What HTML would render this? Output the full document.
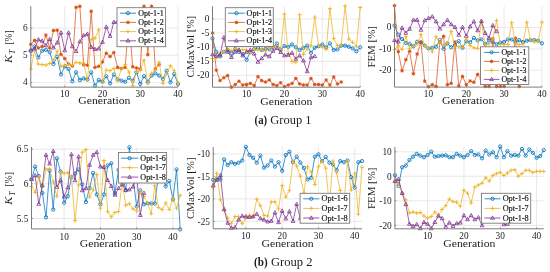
<!DOCTYPE html>
<html><head><meta charset="utf-8"><style>
html,body{margin:0;padding:0;background:#fff;width:550px;height:272px;overflow:hidden}
</style></head><body>
<svg width="550" height="272" viewBox="0 0 550 272" style="position:absolute;left:0;top:0;will-change:transform;filter:blur(0.4px)">
<defs>
<clipPath id="cs1"><rect x="26.8" y="2.2" width="155.2" height="87.95"/></clipPath>
<clipPath id="cs2"><rect x="208.5" y="2.3" width="155.7" height="87.9"/></clipPath>
<clipPath id="cs3"><rect x="390.5" y="2.0" width="155.39999999999998" height="88.1"/></clipPath>
<clipPath id="cs4"><rect x="27.5" y="143.0" width="156.7" height="88.9"/></clipPath>
<clipPath id="cs5"><rect x="209.2" y="143.0" width="156.8" height="88.80000000000001"/></clipPath>
<clipPath id="cs6"><rect x="390.9" y="142.9" width="156.89999999999998" height="88.9"/></clipPath>
</defs>
<g clip-path="url(#cs1)">
<line x1="30.8" x2="178" y1="28.0" y2="28.0" stroke="#e3e3e3" stroke-width="0.8"/>
<line x1="30.8" x2="178" y1="55.3" y2="55.3" stroke="#e3e3e3" stroke-width="0.8"/>
<line x1="30.8" x2="178" y1="82.6" y2="82.6" stroke="#e3e3e3" stroke-width="0.8"/>
<line x1="64.77" x2="64.77" y1="6.2" y2="87.15" stroke="#e3e3e3" stroke-width="0.8"/>
<line x1="102.51" x2="102.51" y1="6.2" y2="87.15" stroke="#e3e3e3" stroke-width="0.8"/>
<line x1="140.26" x2="140.26" y1="6.2" y2="87.15" stroke="#e3e3e3" stroke-width="0.8"/>
<line x1="178.00" x2="178.00" y1="6.2" y2="87.15" stroke="#e3e3e3" stroke-width="0.8"/>
</g>
<g clip-path="url(#cs2)">
<line x1="212.5" x2="360.2" y1="18.9" y2="18.9" stroke="#e3e3e3" stroke-width="0.8"/>
<line x1="212.5" x2="360.2" y1="33.0" y2="33.0" stroke="#e3e3e3" stroke-width="0.8"/>
<line x1="212.5" x2="360.2" y1="47.15" y2="47.15" stroke="#e3e3e3" stroke-width="0.8"/>
<line x1="212.5" x2="360.2" y1="61.3" y2="61.3" stroke="#e3e3e3" stroke-width="0.8"/>
<line x1="212.5" x2="360.2" y1="75.4" y2="75.4" stroke="#e3e3e3" stroke-width="0.8"/>
<line x1="246.58" x2="246.58" y1="6.3" y2="87.2" stroke="#e3e3e3" stroke-width="0.8"/>
<line x1="284.46" x2="284.46" y1="6.3" y2="87.2" stroke="#e3e3e3" stroke-width="0.8"/>
<line x1="322.33" x2="322.33" y1="6.3" y2="87.2" stroke="#e3e3e3" stroke-width="0.8"/>
<line x1="360.20" x2="360.20" y1="6.3" y2="87.2" stroke="#e3e3e3" stroke-width="0.8"/>
</g>
<g clip-path="url(#cs3)">
<line x1="394.5" x2="541.9" y1="27.5" y2="27.5" stroke="#e3e3e3" stroke-width="0.8"/>
<line x1="394.5" x2="541.9" y1="48.85" y2="48.85" stroke="#e3e3e3" stroke-width="0.8"/>
<line x1="394.5" x2="541.9" y1="70.2" y2="70.2" stroke="#e3e3e3" stroke-width="0.8"/>
<line x1="428.52" x2="428.52" y1="6.0" y2="87.1" stroke="#e3e3e3" stroke-width="0.8"/>
<line x1="466.31" x2="466.31" y1="6.0" y2="87.1" stroke="#e3e3e3" stroke-width="0.8"/>
<line x1="504.11" x2="504.11" y1="6.0" y2="87.1" stroke="#e3e3e3" stroke-width="0.8"/>
<line x1="541.90" x2="541.90" y1="6.0" y2="87.1" stroke="#e3e3e3" stroke-width="0.8"/>
</g>
<g clip-path="url(#cs4)">
<line x1="31.5" x2="180.2" y1="149.2" y2="149.2" stroke="#e3e3e3" stroke-width="0.8"/>
<line x1="31.5" x2="180.2" y1="183.85" y2="183.85" stroke="#e3e3e3" stroke-width="0.8"/>
<line x1="31.5" x2="180.2" y1="218.5" y2="218.5" stroke="#e3e3e3" stroke-width="0.8"/>
<line x1="64.14" x2="64.14" y1="147.0" y2="228.9" stroke="#e3e3e3" stroke-width="0.8"/>
<line x1="100.41" x2="100.41" y1="147.0" y2="228.9" stroke="#e3e3e3" stroke-width="0.8"/>
<line x1="136.68" x2="136.68" y1="147.0" y2="228.9" stroke="#e3e3e3" stroke-width="0.8"/>
<line x1="172.95" x2="172.95" y1="147.0" y2="228.9" stroke="#e3e3e3" stroke-width="0.8"/>
</g>
<g clip-path="url(#cs5)">
<line x1="213.2" x2="362.0" y1="153.9" y2="153.9" stroke="#e3e3e3" stroke-width="0.8"/>
<line x1="213.2" x2="362.0" y1="176.4" y2="176.4" stroke="#e3e3e3" stroke-width="0.8"/>
<line x1="213.2" x2="362.0" y1="198.85" y2="198.85" stroke="#e3e3e3" stroke-width="0.8"/>
<line x1="213.2" x2="362.0" y1="221.3" y2="221.3" stroke="#e3e3e3" stroke-width="0.8"/>
<line x1="245.86" x2="245.86" y1="147.0" y2="228.8" stroke="#e3e3e3" stroke-width="0.8"/>
<line x1="282.16" x2="282.16" y1="147.0" y2="228.8" stroke="#e3e3e3" stroke-width="0.8"/>
<line x1="318.45" x2="318.45" y1="147.0" y2="228.8" stroke="#e3e3e3" stroke-width="0.8"/>
<line x1="354.74" x2="354.74" y1="147.0" y2="228.8" stroke="#e3e3e3" stroke-width="0.8"/>
</g>
<g clip-path="url(#cs6)">
<line x1="394.9" x2="543.8" y1="151.8" y2="151.8" stroke="#e3e3e3" stroke-width="0.8"/>
<line x1="394.9" x2="543.8" y1="176.3" y2="176.3" stroke="#e3e3e3" stroke-width="0.8"/>
<line x1="394.9" x2="543.8" y1="200.8" y2="200.8" stroke="#e3e3e3" stroke-width="0.8"/>
<line x1="394.9" x2="543.8" y1="225.3" y2="225.3" stroke="#e3e3e3" stroke-width="0.8"/>
<line x1="427.59" x2="427.59" y1="146.9" y2="228.8" stroke="#e3e3e3" stroke-width="0.8"/>
<line x1="463.90" x2="463.90" y1="146.9" y2="228.8" stroke="#e3e3e3" stroke-width="0.8"/>
<line x1="500.22" x2="500.22" y1="146.9" y2="228.8" stroke="#e3e3e3" stroke-width="0.8"/>
<line x1="536.54" x2="536.54" y1="146.9" y2="228.8" stroke="#e3e3e3" stroke-width="0.8"/>
</g>
<g clip-path="url(#cs1)">
<path d="M30.80,51.20L34.57,46.60L38.35,57.60L42.12,50.70L45.90,49.80L49.67,52.10L53.45,64.00L57.22,56.70L60.99,74.50L64.77,66.30L68.54,69.00L72.32,81.20L76.09,72.30L79.87,80.00L83.64,78.40L87.42,79.50L91.19,72.30L94.96,85.60L98.74,80.00L102.51,81.70L106.29,76.20L110.06,83.40L113.84,74.50L117.61,79.50L121.38,80.60L125.16,81.70L128.93,77.80L132.71,80.60L136.48,72.30L140.26,83.90L144.03,76.20L147.81,81.70L151.58,75.60L155.35,73.40L159.13,75.60L162.90,79.00L166.68,70.70L170.45,82.30L174.23,74.00L178.00,83.90" fill="none" stroke="#0072BD" stroke-width="0.75" stroke-linejoin="round"/>
<circle cx="30.80" cy="51.20" r="1.65" fill="none" stroke="#0072BD" stroke-width="0.85"/>
<circle cx="34.57" cy="46.60" r="1.65" fill="none" stroke="#0072BD" stroke-width="0.85"/>
<circle cx="38.35" cy="57.60" r="1.65" fill="none" stroke="#0072BD" stroke-width="0.85"/>
<circle cx="42.12" cy="50.70" r="1.65" fill="none" stroke="#0072BD" stroke-width="0.85"/>
<circle cx="45.90" cy="49.80" r="1.65" fill="none" stroke="#0072BD" stroke-width="0.85"/>
<circle cx="49.67" cy="52.10" r="1.65" fill="none" stroke="#0072BD" stroke-width="0.85"/>
<circle cx="53.45" cy="64.00" r="1.65" fill="none" stroke="#0072BD" stroke-width="0.85"/>
<circle cx="57.22" cy="56.70" r="1.65" fill="none" stroke="#0072BD" stroke-width="0.85"/>
<circle cx="60.99" cy="74.50" r="1.65" fill="none" stroke="#0072BD" stroke-width="0.85"/>
<circle cx="64.77" cy="66.30" r="1.65" fill="none" stroke="#0072BD" stroke-width="0.85"/>
<circle cx="68.54" cy="69.00" r="1.65" fill="none" stroke="#0072BD" stroke-width="0.85"/>
<circle cx="72.32" cy="81.20" r="1.65" fill="none" stroke="#0072BD" stroke-width="0.85"/>
<circle cx="76.09" cy="72.30" r="1.65" fill="none" stroke="#0072BD" stroke-width="0.85"/>
<circle cx="79.87" cy="80.00" r="1.65" fill="none" stroke="#0072BD" stroke-width="0.85"/>
<circle cx="83.64" cy="78.40" r="1.65" fill="none" stroke="#0072BD" stroke-width="0.85"/>
<circle cx="87.42" cy="79.50" r="1.65" fill="none" stroke="#0072BD" stroke-width="0.85"/>
<circle cx="91.19" cy="72.30" r="1.65" fill="none" stroke="#0072BD" stroke-width="0.85"/>
<circle cx="94.96" cy="85.60" r="1.65" fill="none" stroke="#0072BD" stroke-width="0.85"/>
<circle cx="98.74" cy="80.00" r="1.65" fill="none" stroke="#0072BD" stroke-width="0.85"/>
<circle cx="102.51" cy="81.70" r="1.65" fill="none" stroke="#0072BD" stroke-width="0.85"/>
<circle cx="106.29" cy="76.20" r="1.65" fill="none" stroke="#0072BD" stroke-width="0.85"/>
<circle cx="110.06" cy="83.40" r="1.65" fill="none" stroke="#0072BD" stroke-width="0.85"/>
<circle cx="113.84" cy="74.50" r="1.65" fill="none" stroke="#0072BD" stroke-width="0.85"/>
<circle cx="117.61" cy="79.50" r="1.65" fill="none" stroke="#0072BD" stroke-width="0.85"/>
<circle cx="121.38" cy="80.60" r="1.65" fill="none" stroke="#0072BD" stroke-width="0.85"/>
<circle cx="125.16" cy="81.70" r="1.65" fill="none" stroke="#0072BD" stroke-width="0.85"/>
<circle cx="128.93" cy="77.80" r="1.65" fill="none" stroke="#0072BD" stroke-width="0.85"/>
<circle cx="132.71" cy="80.60" r="1.65" fill="none" stroke="#0072BD" stroke-width="0.85"/>
<circle cx="136.48" cy="72.30" r="1.65" fill="none" stroke="#0072BD" stroke-width="0.85"/>
<circle cx="140.26" cy="83.90" r="1.65" fill="none" stroke="#0072BD" stroke-width="0.85"/>
<circle cx="144.03" cy="76.20" r="1.65" fill="none" stroke="#0072BD" stroke-width="0.85"/>
<circle cx="147.81" cy="81.70" r="1.65" fill="none" stroke="#0072BD" stroke-width="0.85"/>
<circle cx="151.58" cy="75.60" r="1.65" fill="none" stroke="#0072BD" stroke-width="0.85"/>
<circle cx="155.35" cy="73.40" r="1.65" fill="none" stroke="#0072BD" stroke-width="0.85"/>
<circle cx="159.13" cy="75.60" r="1.65" fill="none" stroke="#0072BD" stroke-width="0.85"/>
<circle cx="162.90" cy="79.00" r="1.65" fill="none" stroke="#0072BD" stroke-width="0.85"/>
<circle cx="166.68" cy="70.70" r="1.65" fill="none" stroke="#0072BD" stroke-width="0.85"/>
<circle cx="170.45" cy="82.30" r="1.65" fill="none" stroke="#0072BD" stroke-width="0.85"/>
<circle cx="174.23" cy="74.00" r="1.65" fill="none" stroke="#0072BD" stroke-width="0.85"/>
<circle cx="178.00" cy="83.90" r="1.65" fill="none" stroke="#0072BD" stroke-width="0.85"/>
<path d="M30.80,44.30L34.57,40.40L38.35,48.00L42.12,46.50L45.90,35.10L49.67,48.00L53.45,30.50L57.22,30.20L60.99,54.40L64.77,58.50L68.54,64.00L72.32,66.00L76.09,7.30L79.87,6.20L83.64,64.60L87.42,65.20L91.19,11.20L94.96,67.40L98.74,66.30L102.51,62.00L106.29,53.20L110.06,56.50L113.84,52.60L117.61,67.40L121.38,68.50L125.16,67.40L128.93,20.00L132.71,66.80L136.48,68.00L140.26,69.00L144.03,6.20L147.81,54.80L151.58,6.20L155.35,69.00L159.13,64.60" fill="none" stroke="#D95319" stroke-width="0.75" stroke-linejoin="round"/>
<path d="M29.00,44.30H32.60M30.80,42.50V46.10M29.45,42.95L32.15,45.65M29.45,45.65L32.15,42.95" stroke="#D95319" stroke-width="0.9" fill="none"/><circle cx="30.80" cy="44.30" r="1.2" fill="#D95319"/>
<path d="M32.77,40.40H36.37M34.57,38.60V42.20M33.22,39.05L35.92,41.75M33.22,41.75L35.92,39.05" stroke="#D95319" stroke-width="0.9" fill="none"/><circle cx="34.57" cy="40.40" r="1.2" fill="#D95319"/>
<path d="M36.55,48.00H40.15M38.35,46.20V49.80M37.00,46.65L39.70,49.35M37.00,49.35L39.70,46.65" stroke="#D95319" stroke-width="0.9" fill="none"/><circle cx="38.35" cy="48.00" r="1.2" fill="#D95319"/>
<path d="M40.32,46.50H43.92M42.12,44.70V48.30M40.77,45.15L43.47,47.85M40.77,47.85L43.47,45.15" stroke="#D95319" stroke-width="0.9" fill="none"/><circle cx="42.12" cy="46.50" r="1.2" fill="#D95319"/>
<path d="M44.10,35.10H47.70M45.90,33.30V36.90M44.55,33.75L47.25,36.45M44.55,36.45L47.25,33.75" stroke="#D95319" stroke-width="0.9" fill="none"/><circle cx="45.90" cy="35.10" r="1.2" fill="#D95319"/>
<path d="M47.87,48.00H51.47M49.67,46.20V49.80M48.32,46.65L51.02,49.35M48.32,49.35L51.02,46.65" stroke="#D95319" stroke-width="0.9" fill="none"/><circle cx="49.67" cy="48.00" r="1.2" fill="#D95319"/>
<path d="M51.65,30.50H55.25M53.45,28.70V32.30M52.10,29.15L54.80,31.85M52.10,31.85L54.80,29.15" stroke="#D95319" stroke-width="0.9" fill="none"/><circle cx="53.45" cy="30.50" r="1.2" fill="#D95319"/>
<path d="M55.42,30.20H59.02M57.22,28.40V32.00M55.87,28.85L58.57,31.55M55.87,31.55L58.57,28.85" stroke="#D95319" stroke-width="0.9" fill="none"/><circle cx="57.22" cy="30.20" r="1.2" fill="#D95319"/>
<path d="M59.19,54.40H62.79M60.99,52.60V56.20M59.64,53.05L62.34,55.75M59.64,55.75L62.34,53.05" stroke="#D95319" stroke-width="0.9" fill="none"/><circle cx="60.99" cy="54.40" r="1.2" fill="#D95319"/>
<path d="M62.97,58.50H66.57M64.77,56.70V60.30M63.42,57.15L66.12,59.85M63.42,59.85L66.12,57.15" stroke="#D95319" stroke-width="0.9" fill="none"/><circle cx="64.77" cy="58.50" r="1.2" fill="#D95319"/>
<path d="M66.74,64.00H70.34M68.54,62.20V65.80M67.19,62.65L69.89,65.35M67.19,65.35L69.89,62.65" stroke="#D95319" stroke-width="0.9" fill="none"/><circle cx="68.54" cy="64.00" r="1.2" fill="#D95319"/>
<path d="M70.52,66.00H74.12M72.32,64.20V67.80M70.97,64.65L73.67,67.35M70.97,67.35L73.67,64.65" stroke="#D95319" stroke-width="0.9" fill="none"/><circle cx="72.32" cy="66.00" r="1.2" fill="#D95319"/>
<path d="M74.29,7.30H77.89M76.09,5.50V9.10M74.74,5.95L77.44,8.65M74.74,8.65L77.44,5.95" stroke="#D95319" stroke-width="0.9" fill="none"/><circle cx="76.09" cy="7.30" r="1.2" fill="#D95319"/>
<path d="M78.07,6.20H81.67M79.87,4.40V8.00M78.52,4.85L81.22,7.55M78.52,7.55L81.22,4.85" stroke="#D95319" stroke-width="0.9" fill="none"/><circle cx="79.87" cy="6.20" r="1.2" fill="#D95319"/>
<path d="M81.84,64.60H85.44M83.64,62.80V66.40M82.29,63.25L84.99,65.95M82.29,65.95L84.99,63.25" stroke="#D95319" stroke-width="0.9" fill="none"/><circle cx="83.64" cy="64.60" r="1.2" fill="#D95319"/>
<path d="M85.62,65.20H89.22M87.42,63.40V67.00M86.07,63.85L88.77,66.55M86.07,66.55L88.77,63.85" stroke="#D95319" stroke-width="0.9" fill="none"/><circle cx="87.42" cy="65.20" r="1.2" fill="#D95319"/>
<path d="M89.39,11.20H92.99M91.19,9.40V13.00M89.84,9.85L92.54,12.55M89.84,12.55L92.54,9.85" stroke="#D95319" stroke-width="0.9" fill="none"/><circle cx="91.19" cy="11.20" r="1.2" fill="#D95319"/>
<path d="M93.16,67.40H96.76M94.96,65.60V69.20M93.61,66.05L96.31,68.75M93.61,68.75L96.31,66.05" stroke="#D95319" stroke-width="0.9" fill="none"/><circle cx="94.96" cy="67.40" r="1.2" fill="#D95319"/>
<path d="M96.94,66.30H100.54M98.74,64.50V68.10M97.39,64.95L100.09,67.65M97.39,67.65L100.09,64.95" stroke="#D95319" stroke-width="0.9" fill="none"/><circle cx="98.74" cy="66.30" r="1.2" fill="#D95319"/>
<path d="M100.71,62.00H104.31M102.51,60.20V63.80M101.16,60.65L103.86,63.35M101.16,63.35L103.86,60.65" stroke="#D95319" stroke-width="0.9" fill="none"/><circle cx="102.51" cy="62.00" r="1.2" fill="#D95319"/>
<path d="M104.49,53.20H108.09M106.29,51.40V55.00M104.94,51.85L107.64,54.55M104.94,54.55L107.64,51.85" stroke="#D95319" stroke-width="0.9" fill="none"/><circle cx="106.29" cy="53.20" r="1.2" fill="#D95319"/>
<path d="M108.26,56.50H111.86M110.06,54.70V58.30M108.71,55.15L111.41,57.85M108.71,57.85L111.41,55.15" stroke="#D95319" stroke-width="0.9" fill="none"/><circle cx="110.06" cy="56.50" r="1.2" fill="#D95319"/>
<path d="M112.04,52.60H115.64M113.84,50.80V54.40M112.49,51.25L115.19,53.95M112.49,53.95L115.19,51.25" stroke="#D95319" stroke-width="0.9" fill="none"/><circle cx="113.84" cy="52.60" r="1.2" fill="#D95319"/>
<path d="M115.81,67.40H119.41M117.61,65.60V69.20M116.26,66.05L118.96,68.75M116.26,68.75L118.96,66.05" stroke="#D95319" stroke-width="0.9" fill="none"/><circle cx="117.61" cy="67.40" r="1.2" fill="#D95319"/>
<path d="M119.58,68.50H123.18M121.38,66.70V70.30M120.03,67.15L122.73,69.85M120.03,69.85L122.73,67.15" stroke="#D95319" stroke-width="0.9" fill="none"/><circle cx="121.38" cy="68.50" r="1.2" fill="#D95319"/>
<path d="M123.36,67.40H126.96M125.16,65.60V69.20M123.81,66.05L126.51,68.75M123.81,68.75L126.51,66.05" stroke="#D95319" stroke-width="0.9" fill="none"/><circle cx="125.16" cy="67.40" r="1.2" fill="#D95319"/>
<path d="M127.13,20.00H130.73M128.93,18.20V21.80M127.58,18.65L130.28,21.35M127.58,21.35L130.28,18.65" stroke="#D95319" stroke-width="0.9" fill="none"/><circle cx="128.93" cy="20.00" r="1.2" fill="#D95319"/>
<path d="M130.91,66.80H134.51M132.71,65.00V68.60M131.36,65.45L134.06,68.15M131.36,68.15L134.06,65.45" stroke="#D95319" stroke-width="0.9" fill="none"/><circle cx="132.71" cy="66.80" r="1.2" fill="#D95319"/>
<path d="M134.68,68.00H138.28M136.48,66.20V69.80M135.13,66.65L137.83,69.35M135.13,69.35L137.83,66.65" stroke="#D95319" stroke-width="0.9" fill="none"/><circle cx="136.48" cy="68.00" r="1.2" fill="#D95319"/>
<path d="M138.46,69.00H142.06M140.26,67.20V70.80M138.91,67.65L141.61,70.35M138.91,70.35L141.61,67.65" stroke="#D95319" stroke-width="0.9" fill="none"/><circle cx="140.26" cy="69.00" r="1.2" fill="#D95319"/>
<path d="M142.23,6.20H145.83M144.03,4.40V8.00M142.68,4.85L145.38,7.55M142.68,7.55L145.38,4.85" stroke="#D95319" stroke-width="0.9" fill="none"/><circle cx="144.03" cy="6.20" r="1.2" fill="#D95319"/>
<path d="M146.01,54.80H149.61M147.81,53.00V56.60M146.46,53.45L149.16,56.15M146.46,56.15L149.16,53.45" stroke="#D95319" stroke-width="0.9" fill="none"/><circle cx="147.81" cy="54.80" r="1.2" fill="#D95319"/>
<path d="M149.78,6.20H153.38M151.58,4.40V8.00M150.23,4.85L152.93,7.55M150.23,7.55L152.93,4.85" stroke="#D95319" stroke-width="0.9" fill="none"/><circle cx="151.58" cy="6.20" r="1.2" fill="#D95319"/>
<path d="M153.55,69.00H157.15M155.35,67.20V70.80M154.00,67.65L156.70,70.35M154.00,70.35L156.70,67.65" stroke="#D95319" stroke-width="0.9" fill="none"/><circle cx="155.35" cy="69.00" r="1.2" fill="#D95319"/>
<path d="M157.33,64.60H160.93M159.13,62.80V66.40M157.78,63.25L160.48,65.95M157.78,65.95L160.48,63.25" stroke="#D95319" stroke-width="0.9" fill="none"/><circle cx="159.13" cy="64.60" r="1.2" fill="#D95319"/>
<path d="M30.80,69.00L34.57,51.00L38.35,64.10L42.12,64.60L45.90,65.20L49.67,63.50L53.45,60.00L57.22,51.20L60.99,66.30L64.77,65.70L68.54,64.60L72.32,65.00L76.09,62.40L79.87,63.00L83.64,63.00L87.42,80.00L91.19,39.40L94.96,38.30L98.74,29.90L102.51,81.70L106.29,70.10L110.06,70.70L113.84,68.50L117.61,80.60L121.38,69.00L125.16,64.60L128.93,72.00L132.71,85.60L136.48,71.80L140.26,70.10L144.03,60.20L147.81,83.90L151.58,73.40L155.35,70.00L159.13,62.40L162.90,83.40L166.68,73.40L170.45,65.70L174.23,70.70L178.00,82.80" fill="none" stroke="#EDB120" stroke-width="0.75" stroke-linejoin="round"/>
<path d="M28.80,69.00H32.80M30.80,67.00V71.00" stroke="#EDB120" stroke-width="0.85" fill="none"/>
<path d="M32.57,51.00H36.57M34.57,49.00V53.00" stroke="#EDB120" stroke-width="0.85" fill="none"/>
<path d="M36.35,64.10H40.35M38.35,62.10V66.10" stroke="#EDB120" stroke-width="0.85" fill="none"/>
<path d="M40.12,64.60H44.12M42.12,62.60V66.60" stroke="#EDB120" stroke-width="0.85" fill="none"/>
<path d="M43.90,65.20H47.90M45.90,63.20V67.20" stroke="#EDB120" stroke-width="0.85" fill="none"/>
<path d="M47.67,63.50H51.67M49.67,61.50V65.50" stroke="#EDB120" stroke-width="0.85" fill="none"/>
<path d="M51.45,60.00H55.45M53.45,58.00V62.00" stroke="#EDB120" stroke-width="0.85" fill="none"/>
<path d="M55.22,51.20H59.22M57.22,49.20V53.20" stroke="#EDB120" stroke-width="0.85" fill="none"/>
<path d="M58.99,66.30H62.99M60.99,64.30V68.30" stroke="#EDB120" stroke-width="0.85" fill="none"/>
<path d="M62.77,65.70H66.77M64.77,63.70V67.70" stroke="#EDB120" stroke-width="0.85" fill="none"/>
<path d="M66.54,64.60H70.54M68.54,62.60V66.60" stroke="#EDB120" stroke-width="0.85" fill="none"/>
<path d="M70.32,65.00H74.32M72.32,63.00V67.00" stroke="#EDB120" stroke-width="0.85" fill="none"/>
<path d="M74.09,62.40H78.09M76.09,60.40V64.40" stroke="#EDB120" stroke-width="0.85" fill="none"/>
<path d="M77.87,63.00H81.87M79.87,61.00V65.00" stroke="#EDB120" stroke-width="0.85" fill="none"/>
<path d="M81.64,63.00H85.64M83.64,61.00V65.00" stroke="#EDB120" stroke-width="0.85" fill="none"/>
<path d="M85.42,80.00H89.42M87.42,78.00V82.00" stroke="#EDB120" stroke-width="0.85" fill="none"/>
<path d="M89.19,39.40H93.19M91.19,37.40V41.40" stroke="#EDB120" stroke-width="0.85" fill="none"/>
<path d="M92.96,38.30H96.96M94.96,36.30V40.30" stroke="#EDB120" stroke-width="0.85" fill="none"/>
<path d="M96.74,29.90H100.74M98.74,27.90V31.90" stroke="#EDB120" stroke-width="0.85" fill="none"/>
<path d="M100.51,81.70H104.51M102.51,79.70V83.70" stroke="#EDB120" stroke-width="0.85" fill="none"/>
<path d="M104.29,70.10H108.29M106.29,68.10V72.10" stroke="#EDB120" stroke-width="0.85" fill="none"/>
<path d="M108.06,70.70H112.06M110.06,68.70V72.70" stroke="#EDB120" stroke-width="0.85" fill="none"/>
<path d="M111.84,68.50H115.84M113.84,66.50V70.50" stroke="#EDB120" stroke-width="0.85" fill="none"/>
<path d="M115.61,80.60H119.61M117.61,78.60V82.60" stroke="#EDB120" stroke-width="0.85" fill="none"/>
<path d="M119.38,69.00H123.38M121.38,67.00V71.00" stroke="#EDB120" stroke-width="0.85" fill="none"/>
<path d="M123.16,64.60H127.16M125.16,62.60V66.60" stroke="#EDB120" stroke-width="0.85" fill="none"/>
<path d="M126.93,72.00H130.93M128.93,70.00V74.00" stroke="#EDB120" stroke-width="0.85" fill="none"/>
<path d="M130.71,85.60H134.71M132.71,83.60V87.60" stroke="#EDB120" stroke-width="0.85" fill="none"/>
<path d="M134.48,71.80H138.48M136.48,69.80V73.80" stroke="#EDB120" stroke-width="0.85" fill="none"/>
<path d="M138.26,70.10H142.26M140.26,68.10V72.10" stroke="#EDB120" stroke-width="0.85" fill="none"/>
<path d="M142.03,60.20H146.03M144.03,58.20V62.20" stroke="#EDB120" stroke-width="0.85" fill="none"/>
<path d="M145.81,83.90H149.81M147.81,81.90V85.90" stroke="#EDB120" stroke-width="0.85" fill="none"/>
<path d="M149.58,73.40H153.58M151.58,71.40V75.40" stroke="#EDB120" stroke-width="0.85" fill="none"/>
<path d="M153.35,70.00H157.35M155.35,68.00V72.00" stroke="#EDB120" stroke-width="0.85" fill="none"/>
<path d="M157.13,62.40H161.13M159.13,60.40V64.40" stroke="#EDB120" stroke-width="0.85" fill="none"/>
<path d="M160.90,83.40H164.90M162.90,81.40V85.40" stroke="#EDB120" stroke-width="0.85" fill="none"/>
<path d="M164.68,73.40H168.68M166.68,71.40V75.40" stroke="#EDB120" stroke-width="0.85" fill="none"/>
<path d="M168.45,65.70H172.45M170.45,63.70V67.70" stroke="#EDB120" stroke-width="0.85" fill="none"/>
<path d="M172.23,70.70H176.23M174.23,68.70V72.70" stroke="#EDB120" stroke-width="0.85" fill="none"/>
<path d="M176.00,82.80H180.00M178.00,80.80V84.80" stroke="#EDB120" stroke-width="0.85" fill="none"/>
<path d="M30.80,49.80L34.57,48.70L38.35,39.70L42.12,41.00L45.90,45.50L49.67,39.20L53.45,47.80L57.22,42.70L60.99,32.80L64.77,50.50L68.54,32.80L72.32,46.50L76.09,51.30L79.87,41.60L83.64,35.50L87.42,34.00L91.19,47.10L94.96,49.30L98.74,48.70L102.51,42.10L106.29,27.00L110.06,36.10L113.84,22.20L117.61,22.00L121.38,25.00L125.16,35.00L128.93,30.00L132.71,28.00" fill="none" stroke="#7E2F8E" stroke-width="0.75" stroke-linejoin="round"/>
<path d="M30.80,47.70L32.69,51.06L28.91,51.06Z" stroke="#7E2F8E" stroke-width="0.8" fill="none"/>
<path d="M34.57,46.60L36.46,49.96L32.68,49.96Z" stroke="#7E2F8E" stroke-width="0.8" fill="none"/>
<path d="M38.35,37.60L40.24,40.96L36.46,40.96Z" stroke="#7E2F8E" stroke-width="0.8" fill="none"/>
<path d="M42.12,38.90L44.01,42.26L40.23,42.26Z" stroke="#7E2F8E" stroke-width="0.8" fill="none"/>
<path d="M45.90,43.40L47.79,46.76L44.01,46.76Z" stroke="#7E2F8E" stroke-width="0.8" fill="none"/>
<path d="M49.67,37.10L51.56,40.46L47.78,40.46Z" stroke="#7E2F8E" stroke-width="0.8" fill="none"/>
<path d="M53.45,45.70L55.34,49.06L51.56,49.06Z" stroke="#7E2F8E" stroke-width="0.8" fill="none"/>
<path d="M57.22,40.60L59.11,43.96L55.33,43.96Z" stroke="#7E2F8E" stroke-width="0.8" fill="none"/>
<path d="M60.99,30.70L62.88,34.06L59.10,34.06Z" stroke="#7E2F8E" stroke-width="0.8" fill="none"/>
<path d="M64.77,48.40L66.66,51.76L62.88,51.76Z" stroke="#7E2F8E" stroke-width="0.8" fill="none"/>
<path d="M68.54,30.70L70.43,34.06L66.65,34.06Z" stroke="#7E2F8E" stroke-width="0.8" fill="none"/>
<path d="M72.32,44.40L74.21,47.76L70.43,47.76Z" stroke="#7E2F8E" stroke-width="0.8" fill="none"/>
<path d="M76.09,49.20L77.98,52.56L74.20,52.56Z" stroke="#7E2F8E" stroke-width="0.8" fill="none"/>
<path d="M79.87,39.50L81.76,42.86L77.98,42.86Z" stroke="#7E2F8E" stroke-width="0.8" fill="none"/>
<path d="M83.64,33.40L85.53,36.76L81.75,36.76Z" stroke="#7E2F8E" stroke-width="0.8" fill="none"/>
<path d="M87.42,31.90L89.31,35.26L85.53,35.26Z" stroke="#7E2F8E" stroke-width="0.8" fill="none"/>
<path d="M91.19,45.00L93.08,48.36L89.30,48.36Z" stroke="#7E2F8E" stroke-width="0.8" fill="none"/>
<path d="M94.96,47.20L96.85,50.56L93.07,50.56Z" stroke="#7E2F8E" stroke-width="0.8" fill="none"/>
<path d="M98.74,46.60L100.63,49.96L96.85,49.96Z" stroke="#7E2F8E" stroke-width="0.8" fill="none"/>
<path d="M102.51,40.00L104.40,43.36L100.62,43.36Z" stroke="#7E2F8E" stroke-width="0.8" fill="none"/>
<path d="M106.29,24.90L108.18,28.26L104.40,28.26Z" stroke="#7E2F8E" stroke-width="0.8" fill="none"/>
<path d="M110.06,34.00L111.95,37.36L108.17,37.36Z" stroke="#7E2F8E" stroke-width="0.8" fill="none"/>
<path d="M113.84,20.10L115.73,23.46L111.95,23.46Z" stroke="#7E2F8E" stroke-width="0.8" fill="none"/>
<path d="M117.61,19.90L119.50,23.26L115.72,23.26Z" stroke="#7E2F8E" stroke-width="0.8" fill="none"/>
<path d="M121.38,22.90L123.27,26.26L119.49,26.26Z" stroke="#7E2F8E" stroke-width="0.8" fill="none"/>
<path d="M125.16,32.90L127.05,36.26L123.27,36.26Z" stroke="#7E2F8E" stroke-width="0.8" fill="none"/>
<path d="M128.93,27.90L130.82,31.26L127.04,31.26Z" stroke="#7E2F8E" stroke-width="0.8" fill="none"/>
<path d="M132.71,25.90L134.60,29.26L130.82,29.26Z" stroke="#7E2F8E" stroke-width="0.8" fill="none"/>
</g>
<g clip-path="url(#cs2)">
<path d="M212.50,38.50L216.29,51.80L220.07,56.40L223.86,51.80L227.65,50.00L231.44,53.00L235.22,49.00L239.01,51.80L242.80,54.00L246.58,59.80L250.37,52.00L254.16,49.20L257.95,48.00L261.73,50.00L265.52,49.00L269.31,49.20L273.09,47.00L276.88,43.60L280.67,49.80L284.46,46.00L288.24,46.80L292.03,44.50L295.82,47.30L299.61,50.00L303.39,47.80L307.18,45.60L310.97,52.80L314.75,47.80L318.54,46.20L322.33,44.50L326.12,47.30L329.90,43.40L333.69,50.00L337.48,49.50L341.26,45.60L345.05,45.60L348.84,46.70L352.63,48.40L356.41,51.20L360.20,47.30" fill="none" stroke="#0072BD" stroke-width="0.75" stroke-linejoin="round"/>
<circle cx="212.50" cy="38.50" r="1.65" fill="none" stroke="#0072BD" stroke-width="0.85"/>
<circle cx="216.29" cy="51.80" r="1.65" fill="none" stroke="#0072BD" stroke-width="0.85"/>
<circle cx="220.07" cy="56.40" r="1.65" fill="none" stroke="#0072BD" stroke-width="0.85"/>
<circle cx="223.86" cy="51.80" r="1.65" fill="none" stroke="#0072BD" stroke-width="0.85"/>
<circle cx="227.65" cy="50.00" r="1.65" fill="none" stroke="#0072BD" stroke-width="0.85"/>
<circle cx="231.44" cy="53.00" r="1.65" fill="none" stroke="#0072BD" stroke-width="0.85"/>
<circle cx="235.22" cy="49.00" r="1.65" fill="none" stroke="#0072BD" stroke-width="0.85"/>
<circle cx="239.01" cy="51.80" r="1.65" fill="none" stroke="#0072BD" stroke-width="0.85"/>
<circle cx="242.80" cy="54.00" r="1.65" fill="none" stroke="#0072BD" stroke-width="0.85"/>
<circle cx="246.58" cy="59.80" r="1.65" fill="none" stroke="#0072BD" stroke-width="0.85"/>
<circle cx="250.37" cy="52.00" r="1.65" fill="none" stroke="#0072BD" stroke-width="0.85"/>
<circle cx="254.16" cy="49.20" r="1.65" fill="none" stroke="#0072BD" stroke-width="0.85"/>
<circle cx="257.95" cy="48.00" r="1.65" fill="none" stroke="#0072BD" stroke-width="0.85"/>
<circle cx="261.73" cy="50.00" r="1.65" fill="none" stroke="#0072BD" stroke-width="0.85"/>
<circle cx="265.52" cy="49.00" r="1.65" fill="none" stroke="#0072BD" stroke-width="0.85"/>
<circle cx="269.31" cy="49.20" r="1.65" fill="none" stroke="#0072BD" stroke-width="0.85"/>
<circle cx="273.09" cy="47.00" r="1.65" fill="none" stroke="#0072BD" stroke-width="0.85"/>
<circle cx="276.88" cy="43.60" r="1.65" fill="none" stroke="#0072BD" stroke-width="0.85"/>
<circle cx="280.67" cy="49.80" r="1.65" fill="none" stroke="#0072BD" stroke-width="0.85"/>
<circle cx="284.46" cy="46.00" r="1.65" fill="none" stroke="#0072BD" stroke-width="0.85"/>
<circle cx="288.24" cy="46.80" r="1.65" fill="none" stroke="#0072BD" stroke-width="0.85"/>
<circle cx="292.03" cy="44.50" r="1.65" fill="none" stroke="#0072BD" stroke-width="0.85"/>
<circle cx="295.82" cy="47.30" r="1.65" fill="none" stroke="#0072BD" stroke-width="0.85"/>
<circle cx="299.61" cy="50.00" r="1.65" fill="none" stroke="#0072BD" stroke-width="0.85"/>
<circle cx="303.39" cy="47.80" r="1.65" fill="none" stroke="#0072BD" stroke-width="0.85"/>
<circle cx="307.18" cy="45.60" r="1.65" fill="none" stroke="#0072BD" stroke-width="0.85"/>
<circle cx="310.97" cy="52.80" r="1.65" fill="none" stroke="#0072BD" stroke-width="0.85"/>
<circle cx="314.75" cy="47.80" r="1.65" fill="none" stroke="#0072BD" stroke-width="0.85"/>
<circle cx="318.54" cy="46.20" r="1.65" fill="none" stroke="#0072BD" stroke-width="0.85"/>
<circle cx="322.33" cy="44.50" r="1.65" fill="none" stroke="#0072BD" stroke-width="0.85"/>
<circle cx="326.12" cy="47.30" r="1.65" fill="none" stroke="#0072BD" stroke-width="0.85"/>
<circle cx="329.90" cy="43.40" r="1.65" fill="none" stroke="#0072BD" stroke-width="0.85"/>
<circle cx="333.69" cy="50.00" r="1.65" fill="none" stroke="#0072BD" stroke-width="0.85"/>
<circle cx="337.48" cy="49.50" r="1.65" fill="none" stroke="#0072BD" stroke-width="0.85"/>
<circle cx="341.26" cy="45.60" r="1.65" fill="none" stroke="#0072BD" stroke-width="0.85"/>
<circle cx="345.05" cy="45.60" r="1.65" fill="none" stroke="#0072BD" stroke-width="0.85"/>
<circle cx="348.84" cy="46.70" r="1.65" fill="none" stroke="#0072BD" stroke-width="0.85"/>
<circle cx="352.63" cy="48.40" r="1.65" fill="none" stroke="#0072BD" stroke-width="0.85"/>
<circle cx="356.41" cy="51.20" r="1.65" fill="none" stroke="#0072BD" stroke-width="0.85"/>
<circle cx="360.20" cy="47.30" r="1.65" fill="none" stroke="#0072BD" stroke-width="0.85"/>
<path d="M212.50,33.00L216.29,70.10L220.07,80.60L223.86,77.80L227.65,75.60L231.44,87.20L235.22,84.50L239.01,81.20L242.80,85.00L246.58,84.50L250.37,83.40L254.16,85.60L257.95,76.70L261.73,80.60L265.52,82.00L269.31,80.00L273.09,84.50L276.88,85.60L280.67,82.80L284.46,86.70L288.24,85.00L292.03,83.40L295.82,78.40L299.61,83.90L303.39,85.00L307.18,85.00L310.97,78.40L314.75,84.50L318.54,84.50L322.33,85.00L326.12,80.00L329.90,85.00L333.69,77.00L337.48,84.00L341.26,82.00" fill="none" stroke="#D95319" stroke-width="0.75" stroke-linejoin="round"/>
<path d="M210.70,33.00H214.30M212.50,31.20V34.80M211.15,31.65L213.85,34.35M211.15,34.35L213.85,31.65" stroke="#D95319" stroke-width="0.9" fill="none"/><circle cx="212.50" cy="33.00" r="1.2" fill="#D95319"/>
<path d="M214.49,70.10H218.09M216.29,68.30V71.90M214.94,68.75L217.64,71.45M214.94,71.45L217.64,68.75" stroke="#D95319" stroke-width="0.9" fill="none"/><circle cx="216.29" cy="70.10" r="1.2" fill="#D95319"/>
<path d="M218.27,80.60H221.87M220.07,78.80V82.40M218.72,79.25L221.42,81.95M218.72,81.95L221.42,79.25" stroke="#D95319" stroke-width="0.9" fill="none"/><circle cx="220.07" cy="80.60" r="1.2" fill="#D95319"/>
<path d="M222.06,77.80H225.66M223.86,76.00V79.60M222.51,76.45L225.21,79.15M222.51,79.15L225.21,76.45" stroke="#D95319" stroke-width="0.9" fill="none"/><circle cx="223.86" cy="77.80" r="1.2" fill="#D95319"/>
<path d="M225.85,75.60H229.45M227.65,73.80V77.40M226.30,74.25L229.00,76.95M226.30,76.95L229.00,74.25" stroke="#D95319" stroke-width="0.9" fill="none"/><circle cx="227.65" cy="75.60" r="1.2" fill="#D95319"/>
<path d="M229.64,87.20H233.24M231.44,85.40V89.00M230.09,85.85L232.79,88.55M230.09,88.55L232.79,85.85" stroke="#D95319" stroke-width="0.9" fill="none"/><circle cx="231.44" cy="87.20" r="1.2" fill="#D95319"/>
<path d="M233.42,84.50H237.02M235.22,82.70V86.30M233.87,83.15L236.57,85.85M233.87,85.85L236.57,83.15" stroke="#D95319" stroke-width="0.9" fill="none"/><circle cx="235.22" cy="84.50" r="1.2" fill="#D95319"/>
<path d="M237.21,81.20H240.81M239.01,79.40V83.00M237.66,79.85L240.36,82.55M237.66,82.55L240.36,79.85" stroke="#D95319" stroke-width="0.9" fill="none"/><circle cx="239.01" cy="81.20" r="1.2" fill="#D95319"/>
<path d="M241.00,85.00H244.60M242.80,83.20V86.80M241.45,83.65L244.15,86.35M241.45,86.35L244.15,83.65" stroke="#D95319" stroke-width="0.9" fill="none"/><circle cx="242.80" cy="85.00" r="1.2" fill="#D95319"/>
<path d="M244.78,84.50H248.38M246.58,82.70V86.30M245.23,83.15L247.93,85.85M245.23,85.85L247.93,83.15" stroke="#D95319" stroke-width="0.9" fill="none"/><circle cx="246.58" cy="84.50" r="1.2" fill="#D95319"/>
<path d="M248.57,83.40H252.17M250.37,81.60V85.20M249.02,82.05L251.72,84.75M249.02,84.75L251.72,82.05" stroke="#D95319" stroke-width="0.9" fill="none"/><circle cx="250.37" cy="83.40" r="1.2" fill="#D95319"/>
<path d="M252.36,85.60H255.96M254.16,83.80V87.40M252.81,84.25L255.51,86.95M252.81,86.95L255.51,84.25" stroke="#D95319" stroke-width="0.9" fill="none"/><circle cx="254.16" cy="85.60" r="1.2" fill="#D95319"/>
<path d="M256.15,76.70H259.75M257.95,74.90V78.50M256.60,75.35L259.30,78.05M256.60,78.05L259.30,75.35" stroke="#D95319" stroke-width="0.9" fill="none"/><circle cx="257.95" cy="76.70" r="1.2" fill="#D95319"/>
<path d="M259.93,80.60H263.53M261.73,78.80V82.40M260.38,79.25L263.08,81.95M260.38,81.95L263.08,79.25" stroke="#D95319" stroke-width="0.9" fill="none"/><circle cx="261.73" cy="80.60" r="1.2" fill="#D95319"/>
<path d="M263.72,82.00H267.32M265.52,80.20V83.80M264.17,80.65L266.87,83.35M264.17,83.35L266.87,80.65" stroke="#D95319" stroke-width="0.9" fill="none"/><circle cx="265.52" cy="82.00" r="1.2" fill="#D95319"/>
<path d="M267.51,80.00H271.11M269.31,78.20V81.80M267.96,78.65L270.66,81.35M267.96,81.35L270.66,78.65" stroke="#D95319" stroke-width="0.9" fill="none"/><circle cx="269.31" cy="80.00" r="1.2" fill="#D95319"/>
<path d="M271.29,84.50H274.89M273.09,82.70V86.30M271.74,83.15L274.44,85.85M271.74,85.85L274.44,83.15" stroke="#D95319" stroke-width="0.9" fill="none"/><circle cx="273.09" cy="84.50" r="1.2" fill="#D95319"/>
<path d="M275.08,85.60H278.68M276.88,83.80V87.40M275.53,84.25L278.23,86.95M275.53,86.95L278.23,84.25" stroke="#D95319" stroke-width="0.9" fill="none"/><circle cx="276.88" cy="85.60" r="1.2" fill="#D95319"/>
<path d="M278.87,82.80H282.47M280.67,81.00V84.60M279.32,81.45L282.02,84.15M279.32,84.15L282.02,81.45" stroke="#D95319" stroke-width="0.9" fill="none"/><circle cx="280.67" cy="82.80" r="1.2" fill="#D95319"/>
<path d="M282.66,86.70H286.26M284.46,84.90V88.50M283.11,85.35L285.81,88.05M283.11,88.05L285.81,85.35" stroke="#D95319" stroke-width="0.9" fill="none"/><circle cx="284.46" cy="86.70" r="1.2" fill="#D95319"/>
<path d="M286.44,85.00H290.04M288.24,83.20V86.80M286.89,83.65L289.59,86.35M286.89,86.35L289.59,83.65" stroke="#D95319" stroke-width="0.9" fill="none"/><circle cx="288.24" cy="85.00" r="1.2" fill="#D95319"/>
<path d="M290.23,83.40H293.83M292.03,81.60V85.20M290.68,82.05L293.38,84.75M290.68,84.75L293.38,82.05" stroke="#D95319" stroke-width="0.9" fill="none"/><circle cx="292.03" cy="83.40" r="1.2" fill="#D95319"/>
<path d="M294.02,78.40H297.62M295.82,76.60V80.20M294.47,77.05L297.17,79.75M294.47,79.75L297.17,77.05" stroke="#D95319" stroke-width="0.9" fill="none"/><circle cx="295.82" cy="78.40" r="1.2" fill="#D95319"/>
<path d="M297.81,83.90H301.41M299.61,82.10V85.70M298.26,82.55L300.96,85.25M298.26,85.25L300.96,82.55" stroke="#D95319" stroke-width="0.9" fill="none"/><circle cx="299.61" cy="83.90" r="1.2" fill="#D95319"/>
<path d="M301.59,85.00H305.19M303.39,83.20V86.80M302.04,83.65L304.74,86.35M302.04,86.35L304.74,83.65" stroke="#D95319" stroke-width="0.9" fill="none"/><circle cx="303.39" cy="85.00" r="1.2" fill="#D95319"/>
<path d="M305.38,85.00H308.98M307.18,83.20V86.80M305.83,83.65L308.53,86.35M305.83,86.35L308.53,83.65" stroke="#D95319" stroke-width="0.9" fill="none"/><circle cx="307.18" cy="85.00" r="1.2" fill="#D95319"/>
<path d="M309.17,78.40H312.77M310.97,76.60V80.20M309.62,77.05L312.32,79.75M309.62,79.75L312.32,77.05" stroke="#D95319" stroke-width="0.9" fill="none"/><circle cx="310.97" cy="78.40" r="1.2" fill="#D95319"/>
<path d="M312.95,84.50H316.55M314.75,82.70V86.30M313.40,83.15L316.10,85.85M313.40,85.85L316.10,83.15" stroke="#D95319" stroke-width="0.9" fill="none"/><circle cx="314.75" cy="84.50" r="1.2" fill="#D95319"/>
<path d="M316.74,84.50H320.34M318.54,82.70V86.30M317.19,83.15L319.89,85.85M317.19,85.85L319.89,83.15" stroke="#D95319" stroke-width="0.9" fill="none"/><circle cx="318.54" cy="84.50" r="1.2" fill="#D95319"/>
<path d="M320.53,85.00H324.13M322.33,83.20V86.80M320.98,83.65L323.68,86.35M320.98,86.35L323.68,83.65" stroke="#D95319" stroke-width="0.9" fill="none"/><circle cx="322.33" cy="85.00" r="1.2" fill="#D95319"/>
<path d="M324.32,80.00H327.92M326.12,78.20V81.80M324.77,78.65L327.47,81.35M324.77,81.35L327.47,78.65" stroke="#D95319" stroke-width="0.9" fill="none"/><circle cx="326.12" cy="80.00" r="1.2" fill="#D95319"/>
<path d="M328.10,85.00H331.70M329.90,83.20V86.80M328.55,83.65L331.25,86.35M328.55,86.35L331.25,83.65" stroke="#D95319" stroke-width="0.9" fill="none"/><circle cx="329.90" cy="85.00" r="1.2" fill="#D95319"/>
<path d="M331.89,77.00H335.49M333.69,75.20V78.80M332.34,75.65L335.04,78.35M332.34,78.35L335.04,75.65" stroke="#D95319" stroke-width="0.9" fill="none"/><circle cx="333.69" cy="77.00" r="1.2" fill="#D95319"/>
<path d="M335.68,84.00H339.28M337.48,82.20V85.80M336.13,82.65L338.83,85.35M336.13,85.35L338.83,82.65" stroke="#D95319" stroke-width="0.9" fill="none"/><circle cx="337.48" cy="84.00" r="1.2" fill="#D95319"/>
<path d="M339.46,82.00H343.06M341.26,80.20V83.80M339.91,80.65L342.61,83.35M339.91,83.35L342.61,80.65" stroke="#D95319" stroke-width="0.9" fill="none"/><circle cx="341.26" cy="82.00" r="1.2" fill="#D95319"/>
<path d="M212.50,58.50L216.29,58.00L220.07,53.00L223.86,52.00L227.65,49.00L231.44,50.50L235.22,48.50L239.01,50.00L242.80,49.50L246.58,50.10L250.37,52.50L254.16,49.00L257.95,50.00L261.73,49.00L265.52,51.00L269.31,48.00L273.09,47.00L276.88,46.00L280.67,49.00L284.46,14.10L288.24,53.40L292.03,61.50L295.82,62.30L299.61,14.70L303.39,54.50L307.18,49.00L310.97,45.60L314.75,17.20L318.54,45.60L322.33,47.00L326.12,49.50L329.90,8.60L333.69,38.50L337.48,45.60L341.26,45.00L345.05,5.90L348.84,39.00L352.63,42.30L356.41,46.20L360.20,7.50" fill="none" stroke="#EDB120" stroke-width="0.75" stroke-linejoin="round"/>
<path d="M210.50,58.50H214.50M212.50,56.50V60.50" stroke="#EDB120" stroke-width="0.85" fill="none"/>
<path d="M214.29,58.00H218.29M216.29,56.00V60.00" stroke="#EDB120" stroke-width="0.85" fill="none"/>
<path d="M218.07,53.00H222.07M220.07,51.00V55.00" stroke="#EDB120" stroke-width="0.85" fill="none"/>
<path d="M221.86,52.00H225.86M223.86,50.00V54.00" stroke="#EDB120" stroke-width="0.85" fill="none"/>
<path d="M225.65,49.00H229.65M227.65,47.00V51.00" stroke="#EDB120" stroke-width="0.85" fill="none"/>
<path d="M229.44,50.50H233.44M231.44,48.50V52.50" stroke="#EDB120" stroke-width="0.85" fill="none"/>
<path d="M233.22,48.50H237.22M235.22,46.50V50.50" stroke="#EDB120" stroke-width="0.85" fill="none"/>
<path d="M237.01,50.00H241.01M239.01,48.00V52.00" stroke="#EDB120" stroke-width="0.85" fill="none"/>
<path d="M240.80,49.50H244.80M242.80,47.50V51.50" stroke="#EDB120" stroke-width="0.85" fill="none"/>
<path d="M244.58,50.10H248.58M246.58,48.10V52.10" stroke="#EDB120" stroke-width="0.85" fill="none"/>
<path d="M248.37,52.50H252.37M250.37,50.50V54.50" stroke="#EDB120" stroke-width="0.85" fill="none"/>
<path d="M252.16,49.00H256.16M254.16,47.00V51.00" stroke="#EDB120" stroke-width="0.85" fill="none"/>
<path d="M255.95,50.00H259.95M257.95,48.00V52.00" stroke="#EDB120" stroke-width="0.85" fill="none"/>
<path d="M259.73,49.00H263.73M261.73,47.00V51.00" stroke="#EDB120" stroke-width="0.85" fill="none"/>
<path d="M263.52,51.00H267.52M265.52,49.00V53.00" stroke="#EDB120" stroke-width="0.85" fill="none"/>
<path d="M267.31,48.00H271.31M269.31,46.00V50.00" stroke="#EDB120" stroke-width="0.85" fill="none"/>
<path d="M271.09,47.00H275.09M273.09,45.00V49.00" stroke="#EDB120" stroke-width="0.85" fill="none"/>
<path d="M274.88,46.00H278.88M276.88,44.00V48.00" stroke="#EDB120" stroke-width="0.85" fill="none"/>
<path d="M278.67,49.00H282.67M280.67,47.00V51.00" stroke="#EDB120" stroke-width="0.85" fill="none"/>
<path d="M282.46,14.10H286.46M284.46,12.10V16.10" stroke="#EDB120" stroke-width="0.85" fill="none"/>
<path d="M286.24,53.40H290.24M288.24,51.40V55.40" stroke="#EDB120" stroke-width="0.85" fill="none"/>
<path d="M290.03,61.50H294.03M292.03,59.50V63.50" stroke="#EDB120" stroke-width="0.85" fill="none"/>
<path d="M293.82,62.30H297.82M295.82,60.30V64.30" stroke="#EDB120" stroke-width="0.85" fill="none"/>
<path d="M297.61,14.70H301.61M299.61,12.70V16.70" stroke="#EDB120" stroke-width="0.85" fill="none"/>
<path d="M301.39,54.50H305.39M303.39,52.50V56.50" stroke="#EDB120" stroke-width="0.85" fill="none"/>
<path d="M305.18,49.00H309.18M307.18,47.00V51.00" stroke="#EDB120" stroke-width="0.85" fill="none"/>
<path d="M308.97,45.60H312.97M310.97,43.60V47.60" stroke="#EDB120" stroke-width="0.85" fill="none"/>
<path d="M312.75,17.20H316.75M314.75,15.20V19.20" stroke="#EDB120" stroke-width="0.85" fill="none"/>
<path d="M316.54,45.60H320.54M318.54,43.60V47.60" stroke="#EDB120" stroke-width="0.85" fill="none"/>
<path d="M320.33,47.00H324.33M322.33,45.00V49.00" stroke="#EDB120" stroke-width="0.85" fill="none"/>
<path d="M324.12,49.50H328.12M326.12,47.50V51.50" stroke="#EDB120" stroke-width="0.85" fill="none"/>
<path d="M327.90,8.60H331.90M329.90,6.60V10.60" stroke="#EDB120" stroke-width="0.85" fill="none"/>
<path d="M331.69,38.50H335.69M333.69,36.50V40.50" stroke="#EDB120" stroke-width="0.85" fill="none"/>
<path d="M335.48,45.60H339.48M337.48,43.60V47.60" stroke="#EDB120" stroke-width="0.85" fill="none"/>
<path d="M339.26,45.00H343.26M341.26,43.00V47.00" stroke="#EDB120" stroke-width="0.85" fill="none"/>
<path d="M343.05,5.90H347.05M345.05,3.90V7.90" stroke="#EDB120" stroke-width="0.85" fill="none"/>
<path d="M346.84,39.00H350.84M348.84,37.00V41.00" stroke="#EDB120" stroke-width="0.85" fill="none"/>
<path d="M350.63,42.30H354.63M352.63,40.30V44.30" stroke="#EDB120" stroke-width="0.85" fill="none"/>
<path d="M354.41,46.20H358.41M356.41,44.20V48.20" stroke="#EDB120" stroke-width="0.85" fill="none"/>
<path d="M358.20,7.50H362.20M360.20,5.50V9.50" stroke="#EDB120" stroke-width="0.85" fill="none"/>
<path d="M212.50,54.50L216.29,56.00L220.07,55.00L223.86,37.50L227.65,52.00L231.44,57.30L235.22,52.00L239.01,50.00L242.80,55.60L246.58,52.00L250.37,50.00L254.16,53.80L257.95,62.00L261.73,58.40L265.52,54.70L269.31,56.50L273.09,51.00L276.88,48.30L280.67,52.20L284.46,55.60L288.24,55.00L292.03,53.00L295.82,59.00L299.61,55.70L303.39,60.70L307.18,71.50L310.97,57.40L314.75,56.30" fill="none" stroke="#7E2F8E" stroke-width="0.75" stroke-linejoin="round"/>
<path d="M212.50,52.40L214.39,55.76L210.61,55.76Z" stroke="#7E2F8E" stroke-width="0.8" fill="none"/>
<path d="M216.29,53.90L218.18,57.26L214.40,57.26Z" stroke="#7E2F8E" stroke-width="0.8" fill="none"/>
<path d="M220.07,52.90L221.96,56.26L218.18,56.26Z" stroke="#7E2F8E" stroke-width="0.8" fill="none"/>
<path d="M223.86,35.40L225.75,38.76L221.97,38.76Z" stroke="#7E2F8E" stroke-width="0.8" fill="none"/>
<path d="M227.65,49.90L229.54,53.26L225.76,53.26Z" stroke="#7E2F8E" stroke-width="0.8" fill="none"/>
<path d="M231.44,55.20L233.33,58.56L229.55,58.56Z" stroke="#7E2F8E" stroke-width="0.8" fill="none"/>
<path d="M235.22,49.90L237.11,53.26L233.33,53.26Z" stroke="#7E2F8E" stroke-width="0.8" fill="none"/>
<path d="M239.01,47.90L240.90,51.26L237.12,51.26Z" stroke="#7E2F8E" stroke-width="0.8" fill="none"/>
<path d="M242.80,53.50L244.69,56.86L240.91,56.86Z" stroke="#7E2F8E" stroke-width="0.8" fill="none"/>
<path d="M246.58,49.90L248.47,53.26L244.69,53.26Z" stroke="#7E2F8E" stroke-width="0.8" fill="none"/>
<path d="M250.37,47.90L252.26,51.26L248.48,51.26Z" stroke="#7E2F8E" stroke-width="0.8" fill="none"/>
<path d="M254.16,51.70L256.05,55.06L252.27,55.06Z" stroke="#7E2F8E" stroke-width="0.8" fill="none"/>
<path d="M257.95,59.90L259.84,63.26L256.06,63.26Z" stroke="#7E2F8E" stroke-width="0.8" fill="none"/>
<path d="M261.73,56.30L263.62,59.66L259.84,59.66Z" stroke="#7E2F8E" stroke-width="0.8" fill="none"/>
<path d="M265.52,52.60L267.41,55.96L263.63,55.96Z" stroke="#7E2F8E" stroke-width="0.8" fill="none"/>
<path d="M269.31,54.40L271.20,57.76L267.42,57.76Z" stroke="#7E2F8E" stroke-width="0.8" fill="none"/>
<path d="M273.09,48.90L274.98,52.26L271.20,52.26Z" stroke="#7E2F8E" stroke-width="0.8" fill="none"/>
<path d="M276.88,46.20L278.77,49.56L274.99,49.56Z" stroke="#7E2F8E" stroke-width="0.8" fill="none"/>
<path d="M280.67,50.10L282.56,53.46L278.78,53.46Z" stroke="#7E2F8E" stroke-width="0.8" fill="none"/>
<path d="M284.46,53.50L286.35,56.86L282.57,56.86Z" stroke="#7E2F8E" stroke-width="0.8" fill="none"/>
<path d="M288.24,52.90L290.13,56.26L286.35,56.26Z" stroke="#7E2F8E" stroke-width="0.8" fill="none"/>
<path d="M292.03,50.90L293.92,54.26L290.14,54.26Z" stroke="#7E2F8E" stroke-width="0.8" fill="none"/>
<path d="M295.82,56.90L297.71,60.26L293.93,60.26Z" stroke="#7E2F8E" stroke-width="0.8" fill="none"/>
<path d="M299.61,53.60L301.50,56.96L297.72,56.96Z" stroke="#7E2F8E" stroke-width="0.8" fill="none"/>
<path d="M303.39,58.60L305.28,61.96L301.50,61.96Z" stroke="#7E2F8E" stroke-width="0.8" fill="none"/>
<path d="M307.18,69.40L309.07,72.76L305.29,72.76Z" stroke="#7E2F8E" stroke-width="0.8" fill="none"/>
<path d="M310.97,55.30L312.86,58.66L309.08,58.66Z" stroke="#7E2F8E" stroke-width="0.8" fill="none"/>
<path d="M314.75,54.20L316.64,57.56L312.86,57.56Z" stroke="#7E2F8E" stroke-width="0.8" fill="none"/>
</g>
<g clip-path="url(#cs3)">
<path d="M394.50,25.50L398.28,34.60L402.06,39.00L405.84,42.90L409.62,44.00L413.40,46.20L417.18,41.80L420.96,42.30L424.74,45.60L428.52,48.40L432.29,47.80L436.07,46.70L439.85,40.10L443.63,48.90L447.41,43.40L451.19,47.30L454.97,45.00L458.75,41.20L462.53,47.80L466.31,41.20L470.09,42.30L473.87,37.90L477.65,40.40L481.43,39.30L485.21,44.00L488.99,40.50L492.77,42.00L496.55,44.20L500.33,42.60L504.11,42.00L507.88,39.50L511.66,39.50L515.44,42.00L519.22,40.10L523.00,42.00L526.78,40.70L530.56,40.10L534.34,40.10L538.12,40.70L541.90,43.30" fill="none" stroke="#0072BD" stroke-width="0.75" stroke-linejoin="round"/>
<circle cx="394.50" cy="25.50" r="1.65" fill="none" stroke="#0072BD" stroke-width="0.85"/>
<circle cx="398.28" cy="34.60" r="1.65" fill="none" stroke="#0072BD" stroke-width="0.85"/>
<circle cx="402.06" cy="39.00" r="1.65" fill="none" stroke="#0072BD" stroke-width="0.85"/>
<circle cx="405.84" cy="42.90" r="1.65" fill="none" stroke="#0072BD" stroke-width="0.85"/>
<circle cx="409.62" cy="44.00" r="1.65" fill="none" stroke="#0072BD" stroke-width="0.85"/>
<circle cx="413.40" cy="46.20" r="1.65" fill="none" stroke="#0072BD" stroke-width="0.85"/>
<circle cx="417.18" cy="41.80" r="1.65" fill="none" stroke="#0072BD" stroke-width="0.85"/>
<circle cx="420.96" cy="42.30" r="1.65" fill="none" stroke="#0072BD" stroke-width="0.85"/>
<circle cx="424.74" cy="45.60" r="1.65" fill="none" stroke="#0072BD" stroke-width="0.85"/>
<circle cx="428.52" cy="48.40" r="1.65" fill="none" stroke="#0072BD" stroke-width="0.85"/>
<circle cx="432.29" cy="47.80" r="1.65" fill="none" stroke="#0072BD" stroke-width="0.85"/>
<circle cx="436.07" cy="46.70" r="1.65" fill="none" stroke="#0072BD" stroke-width="0.85"/>
<circle cx="439.85" cy="40.10" r="1.65" fill="none" stroke="#0072BD" stroke-width="0.85"/>
<circle cx="443.63" cy="48.90" r="1.65" fill="none" stroke="#0072BD" stroke-width="0.85"/>
<circle cx="447.41" cy="43.40" r="1.65" fill="none" stroke="#0072BD" stroke-width="0.85"/>
<circle cx="451.19" cy="47.30" r="1.65" fill="none" stroke="#0072BD" stroke-width="0.85"/>
<circle cx="454.97" cy="45.00" r="1.65" fill="none" stroke="#0072BD" stroke-width="0.85"/>
<circle cx="458.75" cy="41.20" r="1.65" fill="none" stroke="#0072BD" stroke-width="0.85"/>
<circle cx="462.53" cy="47.80" r="1.65" fill="none" stroke="#0072BD" stroke-width="0.85"/>
<circle cx="466.31" cy="41.20" r="1.65" fill="none" stroke="#0072BD" stroke-width="0.85"/>
<circle cx="470.09" cy="42.30" r="1.65" fill="none" stroke="#0072BD" stroke-width="0.85"/>
<circle cx="473.87" cy="37.90" r="1.65" fill="none" stroke="#0072BD" stroke-width="0.85"/>
<circle cx="477.65" cy="40.40" r="1.65" fill="none" stroke="#0072BD" stroke-width="0.85"/>
<circle cx="481.43" cy="39.30" r="1.65" fill="none" stroke="#0072BD" stroke-width="0.85"/>
<circle cx="485.21" cy="44.00" r="1.65" fill="none" stroke="#0072BD" stroke-width="0.85"/>
<circle cx="488.99" cy="40.50" r="1.65" fill="none" stroke="#0072BD" stroke-width="0.85"/>
<circle cx="492.77" cy="42.00" r="1.65" fill="none" stroke="#0072BD" stroke-width="0.85"/>
<circle cx="496.55" cy="44.20" r="1.65" fill="none" stroke="#0072BD" stroke-width="0.85"/>
<circle cx="500.33" cy="42.60" r="1.65" fill="none" stroke="#0072BD" stroke-width="0.85"/>
<circle cx="504.11" cy="42.00" r="1.65" fill="none" stroke="#0072BD" stroke-width="0.85"/>
<circle cx="507.88" cy="39.50" r="1.65" fill="none" stroke="#0072BD" stroke-width="0.85"/>
<circle cx="511.66" cy="39.50" r="1.65" fill="none" stroke="#0072BD" stroke-width="0.85"/>
<circle cx="515.44" cy="42.00" r="1.65" fill="none" stroke="#0072BD" stroke-width="0.85"/>
<circle cx="519.22" cy="40.10" r="1.65" fill="none" stroke="#0072BD" stroke-width="0.85"/>
<circle cx="523.00" cy="42.00" r="1.65" fill="none" stroke="#0072BD" stroke-width="0.85"/>
<circle cx="526.78" cy="40.70" r="1.65" fill="none" stroke="#0072BD" stroke-width="0.85"/>
<circle cx="530.56" cy="40.10" r="1.65" fill="none" stroke="#0072BD" stroke-width="0.85"/>
<circle cx="534.34" cy="40.10" r="1.65" fill="none" stroke="#0072BD" stroke-width="0.85"/>
<circle cx="538.12" cy="40.70" r="1.65" fill="none" stroke="#0072BD" stroke-width="0.85"/>
<circle cx="541.90" cy="43.30" r="1.65" fill="none" stroke="#0072BD" stroke-width="0.85"/>
<path d="M394.50,5.70L398.28,51.70L402.06,70.80L405.84,59.80L409.62,51.20L413.40,73.80L417.18,54.00L420.96,42.30L424.74,81.10L428.52,86.80L432.29,84.70L436.07,86.50L439.85,42.30L443.63,36.30L447.41,84.70L451.19,83.30L454.97,42.00L458.75,86.00L462.53,76.40L466.31,84.70L470.09,81.00L473.87,82.20L477.65,74.40L481.43,79.70L485.21,86.50L488.99,86.50L492.77,38.80L496.55,86.50L500.33,86.50L504.11,86.50L507.88,60.00L511.66,70.00L515.44,38.20L519.22,86.50L523.00,75.00" fill="none" stroke="#D95319" stroke-width="0.75" stroke-linejoin="round"/>
<path d="M392.70,5.70H396.30M394.50,3.90V7.50M393.15,4.35L395.85,7.05M393.15,7.05L395.85,4.35" stroke="#D95319" stroke-width="0.9" fill="none"/><circle cx="394.50" cy="5.70" r="1.2" fill="#D95319"/>
<path d="M396.48,51.70H400.08M398.28,49.90V53.50M396.93,50.35L399.63,53.05M396.93,53.05L399.63,50.35" stroke="#D95319" stroke-width="0.9" fill="none"/><circle cx="398.28" cy="51.70" r="1.2" fill="#D95319"/>
<path d="M400.26,70.80H403.86M402.06,69.00V72.60M400.71,69.45L403.41,72.15M400.71,72.15L403.41,69.45" stroke="#D95319" stroke-width="0.9" fill="none"/><circle cx="402.06" cy="70.80" r="1.2" fill="#D95319"/>
<path d="M404.04,59.80H407.64M405.84,58.00V61.60M404.49,58.45L407.19,61.15M404.49,61.15L407.19,58.45" stroke="#D95319" stroke-width="0.9" fill="none"/><circle cx="405.84" cy="59.80" r="1.2" fill="#D95319"/>
<path d="M407.82,51.20H411.42M409.62,49.40V53.00M408.27,49.85L410.97,52.55M408.27,52.55L410.97,49.85" stroke="#D95319" stroke-width="0.9" fill="none"/><circle cx="409.62" cy="51.20" r="1.2" fill="#D95319"/>
<path d="M411.60,73.80H415.20M413.40,72.00V75.60M412.05,72.45L414.75,75.15M412.05,75.15L414.75,72.45" stroke="#D95319" stroke-width="0.9" fill="none"/><circle cx="413.40" cy="73.80" r="1.2" fill="#D95319"/>
<path d="M415.38,54.00H418.98M417.18,52.20V55.80M415.83,52.65L418.53,55.35M415.83,55.35L418.53,52.65" stroke="#D95319" stroke-width="0.9" fill="none"/><circle cx="417.18" cy="54.00" r="1.2" fill="#D95319"/>
<path d="M419.16,42.30H422.76M420.96,40.50V44.10M419.61,40.95L422.31,43.65M419.61,43.65L422.31,40.95" stroke="#D95319" stroke-width="0.9" fill="none"/><circle cx="420.96" cy="42.30" r="1.2" fill="#D95319"/>
<path d="M422.94,81.10H426.54M424.74,79.30V82.90M423.39,79.75L426.09,82.45M423.39,82.45L426.09,79.75" stroke="#D95319" stroke-width="0.9" fill="none"/><circle cx="424.74" cy="81.10" r="1.2" fill="#D95319"/>
<path d="M426.72,86.80H430.32M428.52,85.00V88.60M427.17,85.45L429.87,88.15M427.17,88.15L429.87,85.45" stroke="#D95319" stroke-width="0.9" fill="none"/><circle cx="428.52" cy="86.80" r="1.2" fill="#D95319"/>
<path d="M430.49,84.70H434.09M432.29,82.90V86.50M430.94,83.35L433.64,86.05M430.94,86.05L433.64,83.35" stroke="#D95319" stroke-width="0.9" fill="none"/><circle cx="432.29" cy="84.70" r="1.2" fill="#D95319"/>
<path d="M434.27,86.50H437.87M436.07,84.70V88.30M434.72,85.15L437.42,87.85M434.72,87.85L437.42,85.15" stroke="#D95319" stroke-width="0.9" fill="none"/><circle cx="436.07" cy="86.50" r="1.2" fill="#D95319"/>
<path d="M438.05,42.30H441.65M439.85,40.50V44.10M438.50,40.95L441.20,43.65M438.50,43.65L441.20,40.95" stroke="#D95319" stroke-width="0.9" fill="none"/><circle cx="439.85" cy="42.30" r="1.2" fill="#D95319"/>
<path d="M441.83,36.30H445.43M443.63,34.50V38.10M442.28,34.95L444.98,37.65M442.28,37.65L444.98,34.95" stroke="#D95319" stroke-width="0.9" fill="none"/><circle cx="443.63" cy="36.30" r="1.2" fill="#D95319"/>
<path d="M445.61,84.70H449.21M447.41,82.90V86.50M446.06,83.35L448.76,86.05M446.06,86.05L448.76,83.35" stroke="#D95319" stroke-width="0.9" fill="none"/><circle cx="447.41" cy="84.70" r="1.2" fill="#D95319"/>
<path d="M449.39,83.30H452.99M451.19,81.50V85.10M449.84,81.95L452.54,84.65M449.84,84.65L452.54,81.95" stroke="#D95319" stroke-width="0.9" fill="none"/><circle cx="451.19" cy="83.30" r="1.2" fill="#D95319"/>
<path d="M453.17,42.00H456.77M454.97,40.20V43.80M453.62,40.65L456.32,43.35M453.62,43.35L456.32,40.65" stroke="#D95319" stroke-width="0.9" fill="none"/><circle cx="454.97" cy="42.00" r="1.2" fill="#D95319"/>
<path d="M456.95,86.00H460.55M458.75,84.20V87.80M457.40,84.65L460.10,87.35M457.40,87.35L460.10,84.65" stroke="#D95319" stroke-width="0.9" fill="none"/><circle cx="458.75" cy="86.00" r="1.2" fill="#D95319"/>
<path d="M460.73,76.40H464.33M462.53,74.60V78.20M461.18,75.05L463.88,77.75M461.18,77.75L463.88,75.05" stroke="#D95319" stroke-width="0.9" fill="none"/><circle cx="462.53" cy="76.40" r="1.2" fill="#D95319"/>
<path d="M464.51,84.70H468.11M466.31,82.90V86.50M464.96,83.35L467.66,86.05M464.96,86.05L467.66,83.35" stroke="#D95319" stroke-width="0.9" fill="none"/><circle cx="466.31" cy="84.70" r="1.2" fill="#D95319"/>
<path d="M468.29,81.00H471.89M470.09,79.20V82.80M468.74,79.65L471.44,82.35M468.74,82.35L471.44,79.65" stroke="#D95319" stroke-width="0.9" fill="none"/><circle cx="470.09" cy="81.00" r="1.2" fill="#D95319"/>
<path d="M472.07,82.20H475.67M473.87,80.40V84.00M472.52,80.85L475.22,83.55M472.52,83.55L475.22,80.85" stroke="#D95319" stroke-width="0.9" fill="none"/><circle cx="473.87" cy="82.20" r="1.2" fill="#D95319"/>
<path d="M475.85,74.40H479.45M477.65,72.60V76.20M476.30,73.05L479.00,75.75M476.30,75.75L479.00,73.05" stroke="#D95319" stroke-width="0.9" fill="none"/><circle cx="477.65" cy="74.40" r="1.2" fill="#D95319"/>
<path d="M479.63,79.70H483.23M481.43,77.90V81.50M480.08,78.35L482.78,81.05M480.08,81.05L482.78,78.35" stroke="#D95319" stroke-width="0.9" fill="none"/><circle cx="481.43" cy="79.70" r="1.2" fill="#D95319"/>
<path d="M483.41,86.50H487.01M485.21,84.70V88.30M483.86,85.15L486.56,87.85M483.86,87.85L486.56,85.15" stroke="#D95319" stroke-width="0.9" fill="none"/><circle cx="485.21" cy="86.50" r="1.2" fill="#D95319"/>
<path d="M487.19,86.50H490.79M488.99,84.70V88.30M487.64,85.15L490.34,87.85M487.64,87.85L490.34,85.15" stroke="#D95319" stroke-width="0.9" fill="none"/><circle cx="488.99" cy="86.50" r="1.2" fill="#D95319"/>
<path d="M490.97,38.80H494.57M492.77,37.00V40.60M491.42,37.45L494.12,40.15M491.42,40.15L494.12,37.45" stroke="#D95319" stroke-width="0.9" fill="none"/><circle cx="492.77" cy="38.80" r="1.2" fill="#D95319"/>
<path d="M494.75,86.50H498.35M496.55,84.70V88.30M495.20,85.15L497.90,87.85M495.20,87.85L497.90,85.15" stroke="#D95319" stroke-width="0.9" fill="none"/><circle cx="496.55" cy="86.50" r="1.2" fill="#D95319"/>
<path d="M498.53,86.50H502.13M500.33,84.70V88.30M498.98,85.15L501.68,87.85M498.98,87.85L501.68,85.15" stroke="#D95319" stroke-width="0.9" fill="none"/><circle cx="500.33" cy="86.50" r="1.2" fill="#D95319"/>
<path d="M502.31,86.50H505.91M504.11,84.70V88.30M502.76,85.15L505.46,87.85M502.76,87.85L505.46,85.15" stroke="#D95319" stroke-width="0.9" fill="none"/><circle cx="504.11" cy="86.50" r="1.2" fill="#D95319"/>
<path d="M506.08,60.00H509.68M507.88,58.20V61.80M506.53,58.65L509.23,61.35M506.53,61.35L509.23,58.65" stroke="#D95319" stroke-width="0.9" fill="none"/><circle cx="507.88" cy="60.00" r="1.2" fill="#D95319"/>
<path d="M509.86,70.00H513.46M511.66,68.20V71.80M510.31,68.65L513.01,71.35M510.31,71.35L513.01,68.65" stroke="#D95319" stroke-width="0.9" fill="none"/><circle cx="511.66" cy="70.00" r="1.2" fill="#D95319"/>
<path d="M513.64,38.20H517.24M515.44,36.40V40.00M514.09,36.85L516.79,39.55M514.09,39.55L516.79,36.85" stroke="#D95319" stroke-width="0.9" fill="none"/><circle cx="515.44" cy="38.20" r="1.2" fill="#D95319"/>
<path d="M517.42,86.50H521.02M519.22,84.70V88.30M517.87,85.15L520.57,87.85M517.87,87.85L520.57,85.15" stroke="#D95319" stroke-width="0.9" fill="none"/><circle cx="519.22" cy="86.50" r="1.2" fill="#D95319"/>
<path d="M521.20,75.00H524.80M523.00,73.20V76.80M521.65,73.65L524.35,76.35M521.65,76.35L524.35,73.65" stroke="#D95319" stroke-width="0.9" fill="none"/><circle cx="523.00" cy="75.00" r="1.2" fill="#D95319"/>
<path d="M394.50,49.50L398.28,45.60L402.06,49.50L405.84,36.30L409.62,48.40L413.40,46.00L417.18,44.50L420.96,34.60L424.74,46.00L428.52,47.80L432.29,51.70L436.07,36.80L439.85,42.30L443.63,45.00L447.41,43.00L451.19,31.30L454.97,46.70L458.75,46.70L462.53,47.50L466.31,39.00L470.09,45.60L473.87,47.80L477.65,48.40L481.43,21.60L485.21,45.00L488.99,44.00L492.77,39.00L496.55,20.50L500.33,44.50L504.11,44.50L507.88,44.50L511.66,22.70L515.44,43.50L519.22,44.50L523.00,44.00L526.78,22.20L530.56,40.00L534.34,42.00L538.12,41.00L541.90,22.20" fill="none" stroke="#EDB120" stroke-width="0.75" stroke-linejoin="round"/>
<path d="M392.50,49.50H396.50M394.50,47.50V51.50" stroke="#EDB120" stroke-width="0.85" fill="none"/>
<path d="M396.28,45.60H400.28M398.28,43.60V47.60" stroke="#EDB120" stroke-width="0.85" fill="none"/>
<path d="M400.06,49.50H404.06M402.06,47.50V51.50" stroke="#EDB120" stroke-width="0.85" fill="none"/>
<path d="M403.84,36.30H407.84M405.84,34.30V38.30" stroke="#EDB120" stroke-width="0.85" fill="none"/>
<path d="M407.62,48.40H411.62M409.62,46.40V50.40" stroke="#EDB120" stroke-width="0.85" fill="none"/>
<path d="M411.40,46.00H415.40M413.40,44.00V48.00" stroke="#EDB120" stroke-width="0.85" fill="none"/>
<path d="M415.18,44.50H419.18M417.18,42.50V46.50" stroke="#EDB120" stroke-width="0.85" fill="none"/>
<path d="M418.96,34.60H422.96M420.96,32.60V36.60" stroke="#EDB120" stroke-width="0.85" fill="none"/>
<path d="M422.74,46.00H426.74M424.74,44.00V48.00" stroke="#EDB120" stroke-width="0.85" fill="none"/>
<path d="M426.52,47.80H430.52M428.52,45.80V49.80" stroke="#EDB120" stroke-width="0.85" fill="none"/>
<path d="M430.29,51.70H434.29M432.29,49.70V53.70" stroke="#EDB120" stroke-width="0.85" fill="none"/>
<path d="M434.07,36.80H438.07M436.07,34.80V38.80" stroke="#EDB120" stroke-width="0.85" fill="none"/>
<path d="M437.85,42.30H441.85M439.85,40.30V44.30" stroke="#EDB120" stroke-width="0.85" fill="none"/>
<path d="M441.63,45.00H445.63M443.63,43.00V47.00" stroke="#EDB120" stroke-width="0.85" fill="none"/>
<path d="M445.41,43.00H449.41M447.41,41.00V45.00" stroke="#EDB120" stroke-width="0.85" fill="none"/>
<path d="M449.19,31.30H453.19M451.19,29.30V33.30" stroke="#EDB120" stroke-width="0.85" fill="none"/>
<path d="M452.97,46.70H456.97M454.97,44.70V48.70" stroke="#EDB120" stroke-width="0.85" fill="none"/>
<path d="M456.75,46.70H460.75M458.75,44.70V48.70" stroke="#EDB120" stroke-width="0.85" fill="none"/>
<path d="M460.53,47.50H464.53M462.53,45.50V49.50" stroke="#EDB120" stroke-width="0.85" fill="none"/>
<path d="M464.31,39.00H468.31M466.31,37.00V41.00" stroke="#EDB120" stroke-width="0.85" fill="none"/>
<path d="M468.09,45.60H472.09M470.09,43.60V47.60" stroke="#EDB120" stroke-width="0.85" fill="none"/>
<path d="M471.87,47.80H475.87M473.87,45.80V49.80" stroke="#EDB120" stroke-width="0.85" fill="none"/>
<path d="M475.65,48.40H479.65M477.65,46.40V50.40" stroke="#EDB120" stroke-width="0.85" fill="none"/>
<path d="M479.43,21.60H483.43M481.43,19.60V23.60" stroke="#EDB120" stroke-width="0.85" fill="none"/>
<path d="M483.21,45.00H487.21M485.21,43.00V47.00" stroke="#EDB120" stroke-width="0.85" fill="none"/>
<path d="M486.99,44.00H490.99M488.99,42.00V46.00" stroke="#EDB120" stroke-width="0.85" fill="none"/>
<path d="M490.77,39.00H494.77M492.77,37.00V41.00" stroke="#EDB120" stroke-width="0.85" fill="none"/>
<path d="M494.55,20.50H498.55M496.55,18.50V22.50" stroke="#EDB120" stroke-width="0.85" fill="none"/>
<path d="M498.33,44.50H502.33M500.33,42.50V46.50" stroke="#EDB120" stroke-width="0.85" fill="none"/>
<path d="M502.11,44.50H506.11M504.11,42.50V46.50" stroke="#EDB120" stroke-width="0.85" fill="none"/>
<path d="M505.88,44.50H509.88M507.88,42.50V46.50" stroke="#EDB120" stroke-width="0.85" fill="none"/>
<path d="M509.66,22.70H513.66M511.66,20.70V24.70" stroke="#EDB120" stroke-width="0.85" fill="none"/>
<path d="M513.44,43.50H517.44M515.44,41.50V45.50" stroke="#EDB120" stroke-width="0.85" fill="none"/>
<path d="M517.22,44.50H521.22M519.22,42.50V46.50" stroke="#EDB120" stroke-width="0.85" fill="none"/>
<path d="M521.00,44.00H525.00M523.00,42.00V46.00" stroke="#EDB120" stroke-width="0.85" fill="none"/>
<path d="M524.78,22.20H528.78M526.78,20.20V24.20" stroke="#EDB120" stroke-width="0.85" fill="none"/>
<path d="M528.56,40.00H532.56M530.56,38.00V42.00" stroke="#EDB120" stroke-width="0.85" fill="none"/>
<path d="M532.34,42.00H536.34M534.34,40.00V44.00" stroke="#EDB120" stroke-width="0.85" fill="none"/>
<path d="M536.12,41.00H540.12M538.12,39.00V43.00" stroke="#EDB120" stroke-width="0.85" fill="none"/>
<path d="M539.90,22.20H543.90M541.90,20.20V24.20" stroke="#EDB120" stroke-width="0.85" fill="none"/>
<path d="M394.50,40.40L398.28,41.80L402.06,28.00L405.84,33.00L409.62,29.00L413.40,20.00L417.18,20.00L420.96,30.00L424.74,20.50L428.52,18.30L432.29,16.70L436.07,21.60L439.85,28.80L443.63,24.40L447.41,20.20L451.19,24.40L454.97,27.20L458.75,35.00L462.53,27.20L466.31,36.00L470.09,26.60L473.87,21.60L477.65,30.50L481.43,21.10L485.21,33.20L488.99,38.00L492.77,25.50L496.55,31.50" fill="none" stroke="#7E2F8E" stroke-width="0.75" stroke-linejoin="round"/>
<path d="M394.50,38.30L396.39,41.66L392.61,41.66Z" stroke="#7E2F8E" stroke-width="0.8" fill="none"/>
<path d="M398.28,39.70L400.17,43.06L396.39,43.06Z" stroke="#7E2F8E" stroke-width="0.8" fill="none"/>
<path d="M402.06,25.90L403.95,29.26L400.17,29.26Z" stroke="#7E2F8E" stroke-width="0.8" fill="none"/>
<path d="M405.84,30.90L407.73,34.26L403.95,34.26Z" stroke="#7E2F8E" stroke-width="0.8" fill="none"/>
<path d="M409.62,26.90L411.51,30.26L407.73,30.26Z" stroke="#7E2F8E" stroke-width="0.8" fill="none"/>
<path d="M413.40,17.90L415.29,21.26L411.51,21.26Z" stroke="#7E2F8E" stroke-width="0.8" fill="none"/>
<path d="M417.18,17.90L419.07,21.26L415.29,21.26Z" stroke="#7E2F8E" stroke-width="0.8" fill="none"/>
<path d="M420.96,27.90L422.85,31.26L419.07,31.26Z" stroke="#7E2F8E" stroke-width="0.8" fill="none"/>
<path d="M424.74,18.40L426.63,21.76L422.85,21.76Z" stroke="#7E2F8E" stroke-width="0.8" fill="none"/>
<path d="M428.52,16.20L430.41,19.56L426.63,19.56Z" stroke="#7E2F8E" stroke-width="0.8" fill="none"/>
<path d="M432.29,14.60L434.18,17.96L430.40,17.96Z" stroke="#7E2F8E" stroke-width="0.8" fill="none"/>
<path d="M436.07,19.50L437.96,22.86L434.18,22.86Z" stroke="#7E2F8E" stroke-width="0.8" fill="none"/>
<path d="M439.85,26.70L441.74,30.06L437.96,30.06Z" stroke="#7E2F8E" stroke-width="0.8" fill="none"/>
<path d="M443.63,22.30L445.52,25.66L441.74,25.66Z" stroke="#7E2F8E" stroke-width="0.8" fill="none"/>
<path d="M447.41,18.10L449.30,21.46L445.52,21.46Z" stroke="#7E2F8E" stroke-width="0.8" fill="none"/>
<path d="M451.19,22.30L453.08,25.66L449.30,25.66Z" stroke="#7E2F8E" stroke-width="0.8" fill="none"/>
<path d="M454.97,25.10L456.86,28.46L453.08,28.46Z" stroke="#7E2F8E" stroke-width="0.8" fill="none"/>
<path d="M458.75,32.90L460.64,36.26L456.86,36.26Z" stroke="#7E2F8E" stroke-width="0.8" fill="none"/>
<path d="M462.53,25.10L464.42,28.46L460.64,28.46Z" stroke="#7E2F8E" stroke-width="0.8" fill="none"/>
<path d="M466.31,33.90L468.20,37.26L464.42,37.26Z" stroke="#7E2F8E" stroke-width="0.8" fill="none"/>
<path d="M470.09,24.50L471.98,27.86L468.20,27.86Z" stroke="#7E2F8E" stroke-width="0.8" fill="none"/>
<path d="M473.87,19.50L475.76,22.86L471.98,22.86Z" stroke="#7E2F8E" stroke-width="0.8" fill="none"/>
<path d="M477.65,28.40L479.54,31.76L475.76,31.76Z" stroke="#7E2F8E" stroke-width="0.8" fill="none"/>
<path d="M481.43,19.00L483.32,22.36L479.54,22.36Z" stroke="#7E2F8E" stroke-width="0.8" fill="none"/>
<path d="M485.21,31.10L487.10,34.46L483.32,34.46Z" stroke="#7E2F8E" stroke-width="0.8" fill="none"/>
<path d="M488.99,35.90L490.88,39.26L487.10,39.26Z" stroke="#7E2F8E" stroke-width="0.8" fill="none"/>
<path d="M492.77,23.40L494.66,26.76L490.88,26.76Z" stroke="#7E2F8E" stroke-width="0.8" fill="none"/>
<path d="M496.55,29.40L498.44,32.76L494.66,32.76Z" stroke="#7E2F8E" stroke-width="0.8" fill="none"/>
</g>
<g clip-path="url(#cs4)">
<path d="M31.50,179.30L35.13,166.60L38.75,176.00L42.38,193.00L46.01,217.30L49.63,170.50L53.26,209.60L56.89,158.30L60.51,171.60L64.14,202.70L67.77,196.30L71.40,177.30L75.02,173.50L78.65,169.50L82.28,184.30L85.90,202.00L89.53,188.00L93.16,173.00L96.78,194.50L100.41,204.30L104.04,194.50L107.66,165.50L111.29,163.30L114.92,193.40L118.54,170.00L122.17,175.00L125.80,190.30L129.42,147.30L133.05,178.00L136.68,206.40L140.30,190.30L143.93,204.30L147.56,203.30L151.19,203.50L154.81,203.60L158.44,175.00L162.07,176.00L165.69,186.40L169.32,181.00L172.95,199.50L176.57,169.40L180.20,229.40" fill="none" stroke="#0072BD" stroke-width="0.75" stroke-linejoin="round"/>
<circle cx="31.50" cy="179.30" r="1.65" fill="none" stroke="#0072BD" stroke-width="0.85"/>
<circle cx="35.13" cy="166.60" r="1.65" fill="none" stroke="#0072BD" stroke-width="0.85"/>
<circle cx="38.75" cy="176.00" r="1.65" fill="none" stroke="#0072BD" stroke-width="0.85"/>
<circle cx="42.38" cy="193.00" r="1.65" fill="none" stroke="#0072BD" stroke-width="0.85"/>
<circle cx="46.01" cy="217.30" r="1.65" fill="none" stroke="#0072BD" stroke-width="0.85"/>
<circle cx="49.63" cy="170.50" r="1.65" fill="none" stroke="#0072BD" stroke-width="0.85"/>
<circle cx="53.26" cy="209.60" r="1.65" fill="none" stroke="#0072BD" stroke-width="0.85"/>
<circle cx="56.89" cy="158.30" r="1.65" fill="none" stroke="#0072BD" stroke-width="0.85"/>
<circle cx="60.51" cy="171.60" r="1.65" fill="none" stroke="#0072BD" stroke-width="0.85"/>
<circle cx="64.14" cy="202.70" r="1.65" fill="none" stroke="#0072BD" stroke-width="0.85"/>
<circle cx="67.77" cy="196.30" r="1.65" fill="none" stroke="#0072BD" stroke-width="0.85"/>
<circle cx="71.40" cy="177.30" r="1.65" fill="none" stroke="#0072BD" stroke-width="0.85"/>
<circle cx="75.02" cy="173.50" r="1.65" fill="none" stroke="#0072BD" stroke-width="0.85"/>
<circle cx="78.65" cy="169.50" r="1.65" fill="none" stroke="#0072BD" stroke-width="0.85"/>
<circle cx="82.28" cy="184.30" r="1.65" fill="none" stroke="#0072BD" stroke-width="0.85"/>
<circle cx="85.90" cy="202.00" r="1.65" fill="none" stroke="#0072BD" stroke-width="0.85"/>
<circle cx="89.53" cy="188.00" r="1.65" fill="none" stroke="#0072BD" stroke-width="0.85"/>
<circle cx="93.16" cy="173.00" r="1.65" fill="none" stroke="#0072BD" stroke-width="0.85"/>
<circle cx="96.78" cy="194.50" r="1.65" fill="none" stroke="#0072BD" stroke-width="0.85"/>
<circle cx="100.41" cy="204.30" r="1.65" fill="none" stroke="#0072BD" stroke-width="0.85"/>
<circle cx="104.04" cy="194.50" r="1.65" fill="none" stroke="#0072BD" stroke-width="0.85"/>
<circle cx="107.66" cy="165.50" r="1.65" fill="none" stroke="#0072BD" stroke-width="0.85"/>
<circle cx="111.29" cy="163.30" r="1.65" fill="none" stroke="#0072BD" stroke-width="0.85"/>
<circle cx="114.92" cy="193.40" r="1.65" fill="none" stroke="#0072BD" stroke-width="0.85"/>
<circle cx="118.54" cy="170.00" r="1.65" fill="none" stroke="#0072BD" stroke-width="0.85"/>
<circle cx="122.17" cy="175.00" r="1.65" fill="none" stroke="#0072BD" stroke-width="0.85"/>
<circle cx="125.80" cy="190.30" r="1.65" fill="none" stroke="#0072BD" stroke-width="0.85"/>
<circle cx="129.42" cy="147.30" r="1.65" fill="none" stroke="#0072BD" stroke-width="0.85"/>
<circle cx="133.05" cy="178.00" r="1.65" fill="none" stroke="#0072BD" stroke-width="0.85"/>
<circle cx="136.68" cy="206.40" r="1.65" fill="none" stroke="#0072BD" stroke-width="0.85"/>
<circle cx="140.30" cy="190.30" r="1.65" fill="none" stroke="#0072BD" stroke-width="0.85"/>
<circle cx="143.93" cy="204.30" r="1.65" fill="none" stroke="#0072BD" stroke-width="0.85"/>
<circle cx="147.56" cy="203.30" r="1.65" fill="none" stroke="#0072BD" stroke-width="0.85"/>
<circle cx="151.19" cy="203.50" r="1.65" fill="none" stroke="#0072BD" stroke-width="0.85"/>
<circle cx="154.81" cy="203.60" r="1.65" fill="none" stroke="#0072BD" stroke-width="0.85"/>
<circle cx="158.44" cy="175.00" r="1.65" fill="none" stroke="#0072BD" stroke-width="0.85"/>
<circle cx="162.07" cy="176.00" r="1.65" fill="none" stroke="#0072BD" stroke-width="0.85"/>
<circle cx="165.69" cy="186.40" r="1.65" fill="none" stroke="#0072BD" stroke-width="0.85"/>
<circle cx="169.32" cy="181.00" r="1.65" fill="none" stroke="#0072BD" stroke-width="0.85"/>
<circle cx="172.95" cy="199.50" r="1.65" fill="none" stroke="#0072BD" stroke-width="0.85"/>
<circle cx="176.57" cy="169.40" r="1.65" fill="none" stroke="#0072BD" stroke-width="0.85"/>
<circle cx="180.20" cy="229.40" r="1.65" fill="none" stroke="#0072BD" stroke-width="0.85"/>
<path d="M31.50,186.50L35.13,192.40L38.75,177.10L42.38,187.00L46.01,168.80L49.63,169.00L53.26,182.00L56.89,196.30L60.51,172.00L64.14,173.30L67.77,172.70L71.40,176.30L75.02,220.70L78.65,185.00L82.28,152.30L85.90,149.50L89.53,197.00L93.16,190.00L96.78,174.60L100.41,208.20L104.04,160.50L107.66,211.60L111.29,216.80L114.92,212.50L118.54,211.60L122.17,183.00L125.80,205.30L129.42,203.60L133.05,208.80L136.68,210.90L140.30,192.00L143.93,196.50L147.56,203.00L151.19,213.70L154.81,185.70L158.44,207.40L162.07,209.60L165.69,203.00L169.32,209.60L172.95,198.00L176.57,208.20L180.20,195.30" fill="none" stroke="#EDB120" stroke-width="0.75" stroke-linejoin="round"/>
<path d="M29.50,186.50H33.50M31.50,184.50V188.50" stroke="#EDB120" stroke-width="0.85" fill="none"/>
<path d="M33.13,192.40H37.13M35.13,190.40V194.40" stroke="#EDB120" stroke-width="0.85" fill="none"/>
<path d="M36.75,177.10H40.75M38.75,175.10V179.10" stroke="#EDB120" stroke-width="0.85" fill="none"/>
<path d="M40.38,187.00H44.38M42.38,185.00V189.00" stroke="#EDB120" stroke-width="0.85" fill="none"/>
<path d="M44.01,168.80H48.01M46.01,166.80V170.80" stroke="#EDB120" stroke-width="0.85" fill="none"/>
<path d="M47.63,169.00H51.63M49.63,167.00V171.00" stroke="#EDB120" stroke-width="0.85" fill="none"/>
<path d="M51.26,182.00H55.26M53.26,180.00V184.00" stroke="#EDB120" stroke-width="0.85" fill="none"/>
<path d="M54.89,196.30H58.89M56.89,194.30V198.30" stroke="#EDB120" stroke-width="0.85" fill="none"/>
<path d="M58.51,172.00H62.51M60.51,170.00V174.00" stroke="#EDB120" stroke-width="0.85" fill="none"/>
<path d="M62.14,173.30H66.14M64.14,171.30V175.30" stroke="#EDB120" stroke-width="0.85" fill="none"/>
<path d="M65.77,172.70H69.77M67.77,170.70V174.70" stroke="#EDB120" stroke-width="0.85" fill="none"/>
<path d="M69.40,176.30H73.40M71.40,174.30V178.30" stroke="#EDB120" stroke-width="0.85" fill="none"/>
<path d="M73.02,220.70H77.02M75.02,218.70V222.70" stroke="#EDB120" stroke-width="0.85" fill="none"/>
<path d="M76.65,185.00H80.65M78.65,183.00V187.00" stroke="#EDB120" stroke-width="0.85" fill="none"/>
<path d="M80.28,152.30H84.28M82.28,150.30V154.30" stroke="#EDB120" stroke-width="0.85" fill="none"/>
<path d="M83.90,149.50H87.90M85.90,147.50V151.50" stroke="#EDB120" stroke-width="0.85" fill="none"/>
<path d="M87.53,197.00H91.53M89.53,195.00V199.00" stroke="#EDB120" stroke-width="0.85" fill="none"/>
<path d="M91.16,190.00H95.16M93.16,188.00V192.00" stroke="#EDB120" stroke-width="0.85" fill="none"/>
<path d="M94.78,174.60H98.78M96.78,172.60V176.60" stroke="#EDB120" stroke-width="0.85" fill="none"/>
<path d="M98.41,208.20H102.41M100.41,206.20V210.20" stroke="#EDB120" stroke-width="0.85" fill="none"/>
<path d="M102.04,160.50H106.04M104.04,158.50V162.50" stroke="#EDB120" stroke-width="0.85" fill="none"/>
<path d="M105.66,211.60H109.66M107.66,209.60V213.60" stroke="#EDB120" stroke-width="0.85" fill="none"/>
<path d="M109.29,216.80H113.29M111.29,214.80V218.80" stroke="#EDB120" stroke-width="0.85" fill="none"/>
<path d="M112.92,212.50H116.92M114.92,210.50V214.50" stroke="#EDB120" stroke-width="0.85" fill="none"/>
<path d="M116.54,211.60H120.54M118.54,209.60V213.60" stroke="#EDB120" stroke-width="0.85" fill="none"/>
<path d="M120.17,183.00H124.17M122.17,181.00V185.00" stroke="#EDB120" stroke-width="0.85" fill="none"/>
<path d="M123.80,205.30H127.80M125.80,203.30V207.30" stroke="#EDB120" stroke-width="0.85" fill="none"/>
<path d="M127.42,203.60H131.42M129.42,201.60V205.60" stroke="#EDB120" stroke-width="0.85" fill="none"/>
<path d="M131.05,208.80H135.05M133.05,206.80V210.80" stroke="#EDB120" stroke-width="0.85" fill="none"/>
<path d="M134.68,210.90H138.68M136.68,208.90V212.90" stroke="#EDB120" stroke-width="0.85" fill="none"/>
<path d="M138.30,192.00H142.30M140.30,190.00V194.00" stroke="#EDB120" stroke-width="0.85" fill="none"/>
<path d="M141.93,196.50H145.93M143.93,194.50V198.50" stroke="#EDB120" stroke-width="0.85" fill="none"/>
<path d="M145.56,203.00H149.56M147.56,201.00V205.00" stroke="#EDB120" stroke-width="0.85" fill="none"/>
<path d="M149.19,213.70H153.19M151.19,211.70V215.70" stroke="#EDB120" stroke-width="0.85" fill="none"/>
<path d="M152.81,185.70H156.81M154.81,183.70V187.70" stroke="#EDB120" stroke-width="0.85" fill="none"/>
<path d="M156.44,207.40H160.44M158.44,205.40V209.40" stroke="#EDB120" stroke-width="0.85" fill="none"/>
<path d="M160.07,209.60H164.07M162.07,207.60V211.60" stroke="#EDB120" stroke-width="0.85" fill="none"/>
<path d="M163.69,203.00H167.69M165.69,201.00V205.00" stroke="#EDB120" stroke-width="0.85" fill="none"/>
<path d="M167.32,209.60H171.32M169.32,207.60V211.60" stroke="#EDB120" stroke-width="0.85" fill="none"/>
<path d="M170.95,198.00H174.95M172.95,196.00V200.00" stroke="#EDB120" stroke-width="0.85" fill="none"/>
<path d="M174.57,208.20H178.57M176.57,206.20V210.20" stroke="#EDB120" stroke-width="0.85" fill="none"/>
<path d="M178.20,195.30H182.20M180.20,193.30V197.30" stroke="#EDB120" stroke-width="0.85" fill="none"/>
<path d="M31.50,179.30L35.13,175.50L38.75,204.00L42.38,185.40L46.01,155.00L49.63,163.80L53.26,151.20L56.89,187.00L60.51,180.50L64.14,196.80L67.77,187.60L71.40,154.50L75.02,180.50L78.65,156.70L82.28,190.50L85.90,188.50L89.53,165.00L93.16,155.00L96.78,152.30L100.41,166.70L104.04,167.20L107.66,180.20L111.29,186.10L114.92,194.90L118.54,188.30L122.17,184.50L125.80,190.00L129.42,189.60L133.05,186.80L136.68,176.00L140.30,215.20L143.93,193.10" fill="none" stroke="#7E2F8E" stroke-width="0.75" stroke-linejoin="round"/>
<path d="M31.50,177.20L33.39,180.56L29.61,180.56Z" stroke="#7E2F8E" stroke-width="0.8" fill="none"/>
<path d="M35.13,173.40L37.02,176.76L33.24,176.76Z" stroke="#7E2F8E" stroke-width="0.8" fill="none"/>
<path d="M38.75,201.90L40.64,205.26L36.86,205.26Z" stroke="#7E2F8E" stroke-width="0.8" fill="none"/>
<path d="M42.38,183.30L44.27,186.66L40.49,186.66Z" stroke="#7E2F8E" stroke-width="0.8" fill="none"/>
<path d="M46.01,152.90L47.90,156.26L44.12,156.26Z" stroke="#7E2F8E" stroke-width="0.8" fill="none"/>
<path d="M49.63,161.70L51.52,165.06L47.74,165.06Z" stroke="#7E2F8E" stroke-width="0.8" fill="none"/>
<path d="M53.26,149.10L55.15,152.46L51.37,152.46Z" stroke="#7E2F8E" stroke-width="0.8" fill="none"/>
<path d="M56.89,184.90L58.78,188.26L55.00,188.26Z" stroke="#7E2F8E" stroke-width="0.8" fill="none"/>
<path d="M60.51,178.40L62.40,181.76L58.62,181.76Z" stroke="#7E2F8E" stroke-width="0.8" fill="none"/>
<path d="M64.14,194.70L66.03,198.06L62.25,198.06Z" stroke="#7E2F8E" stroke-width="0.8" fill="none"/>
<path d="M67.77,185.50L69.66,188.86L65.88,188.86Z" stroke="#7E2F8E" stroke-width="0.8" fill="none"/>
<path d="M71.40,152.40L73.29,155.76L69.51,155.76Z" stroke="#7E2F8E" stroke-width="0.8" fill="none"/>
<path d="M75.02,178.40L76.91,181.76L73.13,181.76Z" stroke="#7E2F8E" stroke-width="0.8" fill="none"/>
<path d="M78.65,154.60L80.54,157.96L76.76,157.96Z" stroke="#7E2F8E" stroke-width="0.8" fill="none"/>
<path d="M82.28,188.40L84.17,191.76L80.39,191.76Z" stroke="#7E2F8E" stroke-width="0.8" fill="none"/>
<path d="M85.90,186.40L87.79,189.76L84.01,189.76Z" stroke="#7E2F8E" stroke-width="0.8" fill="none"/>
<path d="M89.53,162.90L91.42,166.26L87.64,166.26Z" stroke="#7E2F8E" stroke-width="0.8" fill="none"/>
<path d="M93.16,152.90L95.05,156.26L91.27,156.26Z" stroke="#7E2F8E" stroke-width="0.8" fill="none"/>
<path d="M96.78,150.20L98.67,153.56L94.89,153.56Z" stroke="#7E2F8E" stroke-width="0.8" fill="none"/>
<path d="M100.41,164.60L102.30,167.96L98.52,167.96Z" stroke="#7E2F8E" stroke-width="0.8" fill="none"/>
<path d="M104.04,165.10L105.93,168.46L102.15,168.46Z" stroke="#7E2F8E" stroke-width="0.8" fill="none"/>
<path d="M107.66,178.10L109.55,181.46L105.77,181.46Z" stroke="#7E2F8E" stroke-width="0.8" fill="none"/>
<path d="M111.29,184.00L113.18,187.36L109.40,187.36Z" stroke="#7E2F8E" stroke-width="0.8" fill="none"/>
<path d="M114.92,192.80L116.81,196.16L113.03,196.16Z" stroke="#7E2F8E" stroke-width="0.8" fill="none"/>
<path d="M118.54,186.20L120.43,189.56L116.65,189.56Z" stroke="#7E2F8E" stroke-width="0.8" fill="none"/>
<path d="M122.17,182.40L124.06,185.76L120.28,185.76Z" stroke="#7E2F8E" stroke-width="0.8" fill="none"/>
<path d="M125.80,187.90L127.69,191.26L123.91,191.26Z" stroke="#7E2F8E" stroke-width="0.8" fill="none"/>
<path d="M129.42,187.50L131.31,190.86L127.53,190.86Z" stroke="#7E2F8E" stroke-width="0.8" fill="none"/>
<path d="M133.05,184.70L134.94,188.06L131.16,188.06Z" stroke="#7E2F8E" stroke-width="0.8" fill="none"/>
<path d="M136.68,173.90L138.57,177.26L134.79,177.26Z" stroke="#7E2F8E" stroke-width="0.8" fill="none"/>
<path d="M140.30,213.10L142.19,216.46L138.41,216.46Z" stroke="#7E2F8E" stroke-width="0.8" fill="none"/>
<path d="M143.93,191.00L145.82,194.36L142.04,194.36Z" stroke="#7E2F8E" stroke-width="0.8" fill="none"/>
</g>
<g clip-path="url(#cs5)">
<path d="M213.20,179.90L216.83,178.80L220.46,179.40L224.09,159.40L227.72,165.00L231.35,162.20L234.98,163.80L238.60,162.70L242.23,160.50L245.86,146.80L249.49,155.00L253.12,157.80L256.75,162.70L260.38,155.60L264.01,167.70L267.64,165.50L271.27,160.50L274.90,166.60L278.53,162.20L282.16,170.80L285.79,155.00L289.41,151.70L293.04,162.20L296.67,156.70L300.30,162.50L303.93,168.00L307.56,179.50L311.19,177.80L314.82,156.70L318.45,154.30L322.08,161.10L325.71,157.00L329.34,162.60L332.97,164.60L336.60,170.00L340.22,161.10L343.85,162.20L347.48,160.50L351.11,177.10L354.74,187.60L358.37,162.20L362.00,161.10" fill="none" stroke="#0072BD" stroke-width="0.75" stroke-linejoin="round"/>
<circle cx="213.20" cy="179.90" r="1.65" fill="none" stroke="#0072BD" stroke-width="0.85"/>
<circle cx="216.83" cy="178.80" r="1.65" fill="none" stroke="#0072BD" stroke-width="0.85"/>
<circle cx="220.46" cy="179.40" r="1.65" fill="none" stroke="#0072BD" stroke-width="0.85"/>
<circle cx="224.09" cy="159.40" r="1.65" fill="none" stroke="#0072BD" stroke-width="0.85"/>
<circle cx="227.72" cy="165.00" r="1.65" fill="none" stroke="#0072BD" stroke-width="0.85"/>
<circle cx="231.35" cy="162.20" r="1.65" fill="none" stroke="#0072BD" stroke-width="0.85"/>
<circle cx="234.98" cy="163.80" r="1.65" fill="none" stroke="#0072BD" stroke-width="0.85"/>
<circle cx="238.60" cy="162.70" r="1.65" fill="none" stroke="#0072BD" stroke-width="0.85"/>
<circle cx="242.23" cy="160.50" r="1.65" fill="none" stroke="#0072BD" stroke-width="0.85"/>
<circle cx="245.86" cy="146.80" r="1.65" fill="none" stroke="#0072BD" stroke-width="0.85"/>
<circle cx="249.49" cy="155.00" r="1.65" fill="none" stroke="#0072BD" stroke-width="0.85"/>
<circle cx="253.12" cy="157.80" r="1.65" fill="none" stroke="#0072BD" stroke-width="0.85"/>
<circle cx="256.75" cy="162.70" r="1.65" fill="none" stroke="#0072BD" stroke-width="0.85"/>
<circle cx="260.38" cy="155.60" r="1.65" fill="none" stroke="#0072BD" stroke-width="0.85"/>
<circle cx="264.01" cy="167.70" r="1.65" fill="none" stroke="#0072BD" stroke-width="0.85"/>
<circle cx="267.64" cy="165.50" r="1.65" fill="none" stroke="#0072BD" stroke-width="0.85"/>
<circle cx="271.27" cy="160.50" r="1.65" fill="none" stroke="#0072BD" stroke-width="0.85"/>
<circle cx="274.90" cy="166.60" r="1.65" fill="none" stroke="#0072BD" stroke-width="0.85"/>
<circle cx="278.53" cy="162.20" r="1.65" fill="none" stroke="#0072BD" stroke-width="0.85"/>
<circle cx="282.16" cy="170.80" r="1.65" fill="none" stroke="#0072BD" stroke-width="0.85"/>
<circle cx="285.79" cy="155.00" r="1.65" fill="none" stroke="#0072BD" stroke-width="0.85"/>
<circle cx="289.41" cy="151.70" r="1.65" fill="none" stroke="#0072BD" stroke-width="0.85"/>
<circle cx="293.04" cy="162.20" r="1.65" fill="none" stroke="#0072BD" stroke-width="0.85"/>
<circle cx="296.67" cy="156.70" r="1.65" fill="none" stroke="#0072BD" stroke-width="0.85"/>
<circle cx="300.30" cy="162.50" r="1.65" fill="none" stroke="#0072BD" stroke-width="0.85"/>
<circle cx="303.93" cy="168.00" r="1.65" fill="none" stroke="#0072BD" stroke-width="0.85"/>
<circle cx="307.56" cy="179.50" r="1.65" fill="none" stroke="#0072BD" stroke-width="0.85"/>
<circle cx="311.19" cy="177.80" r="1.65" fill="none" stroke="#0072BD" stroke-width="0.85"/>
<circle cx="314.82" cy="156.70" r="1.65" fill="none" stroke="#0072BD" stroke-width="0.85"/>
<circle cx="318.45" cy="154.30" r="1.65" fill="none" stroke="#0072BD" stroke-width="0.85"/>
<circle cx="322.08" cy="161.10" r="1.65" fill="none" stroke="#0072BD" stroke-width="0.85"/>
<circle cx="325.71" cy="157.00" r="1.65" fill="none" stroke="#0072BD" stroke-width="0.85"/>
<circle cx="329.34" cy="162.60" r="1.65" fill="none" stroke="#0072BD" stroke-width="0.85"/>
<circle cx="332.97" cy="164.60" r="1.65" fill="none" stroke="#0072BD" stroke-width="0.85"/>
<circle cx="336.60" cy="170.00" r="1.65" fill="none" stroke="#0072BD" stroke-width="0.85"/>
<circle cx="340.22" cy="161.10" r="1.65" fill="none" stroke="#0072BD" stroke-width="0.85"/>
<circle cx="343.85" cy="162.20" r="1.65" fill="none" stroke="#0072BD" stroke-width="0.85"/>
<circle cx="347.48" cy="160.50" r="1.65" fill="none" stroke="#0072BD" stroke-width="0.85"/>
<circle cx="351.11" cy="177.10" r="1.65" fill="none" stroke="#0072BD" stroke-width="0.85"/>
<circle cx="354.74" cy="187.60" r="1.65" fill="none" stroke="#0072BD" stroke-width="0.85"/>
<circle cx="358.37" cy="162.20" r="1.65" fill="none" stroke="#0072BD" stroke-width="0.85"/>
<circle cx="362.00" cy="161.10" r="1.65" fill="none" stroke="#0072BD" stroke-width="0.85"/>
<path d="M213.20,187.60L216.83,173.30L220.46,199.90L224.09,209.50L227.72,218.00L231.35,223.70L234.98,216.60L238.60,216.60L242.23,223.70L245.86,218.50L249.49,215.30L253.12,217.00L256.75,199.20L260.38,205.70L264.01,215.30L267.64,216.00L271.27,201.80L274.90,201.80L278.53,208.90L282.16,185.40L285.79,197.00L289.41,190.40L293.04,160.50L296.67,166.00L300.30,176.20L303.93,193.20L307.56,166.80L311.19,172.00L314.82,184.50L318.45,166.80L322.08,160.90L325.71,168.10L329.34,205.00L332.97,161.10L336.60,172.70L340.22,190.50L343.85,205.00L347.48,161.60L351.11,190.20L354.74,173.30L358.37,214.20L362.00,167.20" fill="none" stroke="#EDB120" stroke-width="0.75" stroke-linejoin="round"/>
<path d="M211.20,187.60H215.20M213.20,185.60V189.60" stroke="#EDB120" stroke-width="0.85" fill="none"/>
<path d="M214.83,173.30H218.83M216.83,171.30V175.30" stroke="#EDB120" stroke-width="0.85" fill="none"/>
<path d="M218.46,199.90H222.46M220.46,197.90V201.90" stroke="#EDB120" stroke-width="0.85" fill="none"/>
<path d="M222.09,209.50H226.09M224.09,207.50V211.50" stroke="#EDB120" stroke-width="0.85" fill="none"/>
<path d="M225.72,218.00H229.72M227.72,216.00V220.00" stroke="#EDB120" stroke-width="0.85" fill="none"/>
<path d="M229.35,223.70H233.35M231.35,221.70V225.70" stroke="#EDB120" stroke-width="0.85" fill="none"/>
<path d="M232.98,216.60H236.98M234.98,214.60V218.60" stroke="#EDB120" stroke-width="0.85" fill="none"/>
<path d="M236.60,216.60H240.60M238.60,214.60V218.60" stroke="#EDB120" stroke-width="0.85" fill="none"/>
<path d="M240.23,223.70H244.23M242.23,221.70V225.70" stroke="#EDB120" stroke-width="0.85" fill="none"/>
<path d="M243.86,218.50H247.86M245.86,216.50V220.50" stroke="#EDB120" stroke-width="0.85" fill="none"/>
<path d="M247.49,215.30H251.49M249.49,213.30V217.30" stroke="#EDB120" stroke-width="0.85" fill="none"/>
<path d="M251.12,217.00H255.12M253.12,215.00V219.00" stroke="#EDB120" stroke-width="0.85" fill="none"/>
<path d="M254.75,199.20H258.75M256.75,197.20V201.20" stroke="#EDB120" stroke-width="0.85" fill="none"/>
<path d="M258.38,205.70H262.38M260.38,203.70V207.70" stroke="#EDB120" stroke-width="0.85" fill="none"/>
<path d="M262.01,215.30H266.01M264.01,213.30V217.30" stroke="#EDB120" stroke-width="0.85" fill="none"/>
<path d="M265.64,216.00H269.64M267.64,214.00V218.00" stroke="#EDB120" stroke-width="0.85" fill="none"/>
<path d="M269.27,201.80H273.27M271.27,199.80V203.80" stroke="#EDB120" stroke-width="0.85" fill="none"/>
<path d="M272.90,201.80H276.90M274.90,199.80V203.80" stroke="#EDB120" stroke-width="0.85" fill="none"/>
<path d="M276.53,208.90H280.53M278.53,206.90V210.90" stroke="#EDB120" stroke-width="0.85" fill="none"/>
<path d="M280.16,185.40H284.16M282.16,183.40V187.40" stroke="#EDB120" stroke-width="0.85" fill="none"/>
<path d="M283.79,197.00H287.79M285.79,195.00V199.00" stroke="#EDB120" stroke-width="0.85" fill="none"/>
<path d="M287.41,190.40H291.41M289.41,188.40V192.40" stroke="#EDB120" stroke-width="0.85" fill="none"/>
<path d="M291.04,160.50H295.04M293.04,158.50V162.50" stroke="#EDB120" stroke-width="0.85" fill="none"/>
<path d="M294.67,166.00H298.67M296.67,164.00V168.00" stroke="#EDB120" stroke-width="0.85" fill="none"/>
<path d="M298.30,176.20H302.30M300.30,174.20V178.20" stroke="#EDB120" stroke-width="0.85" fill="none"/>
<path d="M301.93,193.20H305.93M303.93,191.20V195.20" stroke="#EDB120" stroke-width="0.85" fill="none"/>
<path d="M305.56,166.80H309.56M307.56,164.80V168.80" stroke="#EDB120" stroke-width="0.85" fill="none"/>
<path d="M309.19,172.00H313.19M311.19,170.00V174.00" stroke="#EDB120" stroke-width="0.85" fill="none"/>
<path d="M312.82,184.50H316.82M314.82,182.50V186.50" stroke="#EDB120" stroke-width="0.85" fill="none"/>
<path d="M316.45,166.80H320.45M318.45,164.80V168.80" stroke="#EDB120" stroke-width="0.85" fill="none"/>
<path d="M320.08,160.90H324.08M322.08,158.90V162.90" stroke="#EDB120" stroke-width="0.85" fill="none"/>
<path d="M323.71,168.10H327.71M325.71,166.10V170.10" stroke="#EDB120" stroke-width="0.85" fill="none"/>
<path d="M327.34,205.00H331.34M329.34,203.00V207.00" stroke="#EDB120" stroke-width="0.85" fill="none"/>
<path d="M330.97,161.10H334.97M332.97,159.10V163.10" stroke="#EDB120" stroke-width="0.85" fill="none"/>
<path d="M334.60,172.70H338.60M336.60,170.70V174.70" stroke="#EDB120" stroke-width="0.85" fill="none"/>
<path d="M338.22,190.50H342.22M340.22,188.50V192.50" stroke="#EDB120" stroke-width="0.85" fill="none"/>
<path d="M341.85,205.00H345.85M343.85,203.00V207.00" stroke="#EDB120" stroke-width="0.85" fill="none"/>
<path d="M345.48,161.60H349.48M347.48,159.60V163.60" stroke="#EDB120" stroke-width="0.85" fill="none"/>
<path d="M349.11,190.20H353.11M351.11,188.20V192.20" stroke="#EDB120" stroke-width="0.85" fill="none"/>
<path d="M352.74,173.30H356.74M354.74,171.30V175.30" stroke="#EDB120" stroke-width="0.85" fill="none"/>
<path d="M356.37,214.20H360.37M358.37,212.20V216.20" stroke="#EDB120" stroke-width="0.85" fill="none"/>
<path d="M360.00,167.20H364.00M362.00,165.20V169.20" stroke="#EDB120" stroke-width="0.85" fill="none"/>
<path d="M213.20,185.40L216.83,180.00L220.46,175.50L224.09,209.50L227.72,223.00L231.35,228.00L234.98,227.50L238.60,219.80L242.23,216.00L245.86,216.60L249.49,217.20L253.12,216.60L256.75,214.00L260.38,218.50L264.01,219.80L267.64,221.70L271.27,221.10L274.90,212.70L278.53,222.40L282.16,211.00L285.79,218.70L289.41,211.50L293.04,221.20L296.67,204.20L300.30,218.20L303.93,210.00L307.56,215.00L311.19,208.00L314.82,213.00L318.45,210.00L322.08,212.00L325.71,215.00" fill="none" stroke="#7E2F8E" stroke-width="0.75" stroke-linejoin="round"/>
<path d="M213.20,183.30L215.09,186.66L211.31,186.66Z" stroke="#7E2F8E" stroke-width="0.8" fill="none"/>
<path d="M216.83,177.90L218.72,181.26L214.94,181.26Z" stroke="#7E2F8E" stroke-width="0.8" fill="none"/>
<path d="M220.46,173.40L222.35,176.76L218.57,176.76Z" stroke="#7E2F8E" stroke-width="0.8" fill="none"/>
<path d="M224.09,207.40L225.98,210.76L222.20,210.76Z" stroke="#7E2F8E" stroke-width="0.8" fill="none"/>
<path d="M227.72,220.90L229.61,224.26L225.83,224.26Z" stroke="#7E2F8E" stroke-width="0.8" fill="none"/>
<path d="M231.35,225.90L233.24,229.26L229.46,229.26Z" stroke="#7E2F8E" stroke-width="0.8" fill="none"/>
<path d="M234.98,225.40L236.87,228.76L233.09,228.76Z" stroke="#7E2F8E" stroke-width="0.8" fill="none"/>
<path d="M238.60,217.70L240.49,221.06L236.71,221.06Z" stroke="#7E2F8E" stroke-width="0.8" fill="none"/>
<path d="M242.23,213.90L244.12,217.26L240.34,217.26Z" stroke="#7E2F8E" stroke-width="0.8" fill="none"/>
<path d="M245.86,214.50L247.75,217.86L243.97,217.86Z" stroke="#7E2F8E" stroke-width="0.8" fill="none"/>
<path d="M249.49,215.10L251.38,218.46L247.60,218.46Z" stroke="#7E2F8E" stroke-width="0.8" fill="none"/>
<path d="M253.12,214.50L255.01,217.86L251.23,217.86Z" stroke="#7E2F8E" stroke-width="0.8" fill="none"/>
<path d="M256.75,211.90L258.64,215.26L254.86,215.26Z" stroke="#7E2F8E" stroke-width="0.8" fill="none"/>
<path d="M260.38,216.40L262.27,219.76L258.49,219.76Z" stroke="#7E2F8E" stroke-width="0.8" fill="none"/>
<path d="M264.01,217.70L265.90,221.06L262.12,221.06Z" stroke="#7E2F8E" stroke-width="0.8" fill="none"/>
<path d="M267.64,219.60L269.53,222.96L265.75,222.96Z" stroke="#7E2F8E" stroke-width="0.8" fill="none"/>
<path d="M271.27,219.00L273.16,222.36L269.38,222.36Z" stroke="#7E2F8E" stroke-width="0.8" fill="none"/>
<path d="M274.90,210.60L276.79,213.96L273.01,213.96Z" stroke="#7E2F8E" stroke-width="0.8" fill="none"/>
<path d="M278.53,220.30L280.42,223.66L276.64,223.66Z" stroke="#7E2F8E" stroke-width="0.8" fill="none"/>
<path d="M282.16,208.90L284.05,212.26L280.27,212.26Z" stroke="#7E2F8E" stroke-width="0.8" fill="none"/>
<path d="M285.79,216.60L287.68,219.96L283.90,219.96Z" stroke="#7E2F8E" stroke-width="0.8" fill="none"/>
<path d="M289.41,209.40L291.30,212.76L287.52,212.76Z" stroke="#7E2F8E" stroke-width="0.8" fill="none"/>
<path d="M293.04,219.10L294.93,222.46L291.15,222.46Z" stroke="#7E2F8E" stroke-width="0.8" fill="none"/>
<path d="M296.67,202.10L298.56,205.46L294.78,205.46Z" stroke="#7E2F8E" stroke-width="0.8" fill="none"/>
<path d="M300.30,216.10L302.19,219.46L298.41,219.46Z" stroke="#7E2F8E" stroke-width="0.8" fill="none"/>
<path d="M303.93,207.90L305.82,211.26L302.04,211.26Z" stroke="#7E2F8E" stroke-width="0.8" fill="none"/>
<path d="M307.56,212.90L309.45,216.26L305.67,216.26Z" stroke="#7E2F8E" stroke-width="0.8" fill="none"/>
<path d="M311.19,205.90L313.08,209.26L309.30,209.26Z" stroke="#7E2F8E" stroke-width="0.8" fill="none"/>
<path d="M314.82,210.90L316.71,214.26L312.93,214.26Z" stroke="#7E2F8E" stroke-width="0.8" fill="none"/>
<path d="M318.45,207.90L320.34,211.26L316.56,211.26Z" stroke="#7E2F8E" stroke-width="0.8" fill="none"/>
<path d="M322.08,209.90L323.97,213.26L320.19,213.26Z" stroke="#7E2F8E" stroke-width="0.8" fill="none"/>
<path d="M325.71,212.90L327.60,216.26L323.82,216.26Z" stroke="#7E2F8E" stroke-width="0.8" fill="none"/>
</g>
<g clip-path="url(#cs6)">
<path d="M394.90,175.20L398.53,186.00L402.16,167.20L405.80,165.60L409.43,160.00L413.06,156.70L416.69,153.90L420.32,155.60L423.95,157.20L427.59,155.00L431.22,151.70L434.85,156.70L438.48,156.10L442.11,155.60L445.74,155.30L449.38,157.20L453.01,157.20L456.64,153.90L460.27,155.60L463.90,157.20L467.53,155.00L471.17,151.20L474.80,155.00L478.43,154.50L482.06,158.30L485.69,150.60L489.32,154.50L492.96,152.30L496.59,157.20L500.22,146.50L503.85,157.20L507.48,151.20L511.11,155.60L514.75,155.00L518.38,155.60L522.01,149.00L525.64,155.60L529.27,149.50L532.90,152.80L536.54,157.80L540.17,156.10L543.80,150.10" fill="none" stroke="#0072BD" stroke-width="0.75" stroke-linejoin="round"/>
<circle cx="394.90" cy="175.20" r="1.65" fill="none" stroke="#0072BD" stroke-width="0.85"/>
<circle cx="398.53" cy="186.00" r="1.65" fill="none" stroke="#0072BD" stroke-width="0.85"/>
<circle cx="402.16" cy="167.20" r="1.65" fill="none" stroke="#0072BD" stroke-width="0.85"/>
<circle cx="405.80" cy="165.60" r="1.65" fill="none" stroke="#0072BD" stroke-width="0.85"/>
<circle cx="409.43" cy="160.00" r="1.65" fill="none" stroke="#0072BD" stroke-width="0.85"/>
<circle cx="413.06" cy="156.70" r="1.65" fill="none" stroke="#0072BD" stroke-width="0.85"/>
<circle cx="416.69" cy="153.90" r="1.65" fill="none" stroke="#0072BD" stroke-width="0.85"/>
<circle cx="420.32" cy="155.60" r="1.65" fill="none" stroke="#0072BD" stroke-width="0.85"/>
<circle cx="423.95" cy="157.20" r="1.65" fill="none" stroke="#0072BD" stroke-width="0.85"/>
<circle cx="427.59" cy="155.00" r="1.65" fill="none" stroke="#0072BD" stroke-width="0.85"/>
<circle cx="431.22" cy="151.70" r="1.65" fill="none" stroke="#0072BD" stroke-width="0.85"/>
<circle cx="434.85" cy="156.70" r="1.65" fill="none" stroke="#0072BD" stroke-width="0.85"/>
<circle cx="438.48" cy="156.10" r="1.65" fill="none" stroke="#0072BD" stroke-width="0.85"/>
<circle cx="442.11" cy="155.60" r="1.65" fill="none" stroke="#0072BD" stroke-width="0.85"/>
<circle cx="445.74" cy="155.30" r="1.65" fill="none" stroke="#0072BD" stroke-width="0.85"/>
<circle cx="449.38" cy="157.20" r="1.65" fill="none" stroke="#0072BD" stroke-width="0.85"/>
<circle cx="453.01" cy="157.20" r="1.65" fill="none" stroke="#0072BD" stroke-width="0.85"/>
<circle cx="456.64" cy="153.90" r="1.65" fill="none" stroke="#0072BD" stroke-width="0.85"/>
<circle cx="460.27" cy="155.60" r="1.65" fill="none" stroke="#0072BD" stroke-width="0.85"/>
<circle cx="463.90" cy="157.20" r="1.65" fill="none" stroke="#0072BD" stroke-width="0.85"/>
<circle cx="467.53" cy="155.00" r="1.65" fill="none" stroke="#0072BD" stroke-width="0.85"/>
<circle cx="471.17" cy="151.20" r="1.65" fill="none" stroke="#0072BD" stroke-width="0.85"/>
<circle cx="474.80" cy="155.00" r="1.65" fill="none" stroke="#0072BD" stroke-width="0.85"/>
<circle cx="478.43" cy="154.50" r="1.65" fill="none" stroke="#0072BD" stroke-width="0.85"/>
<circle cx="482.06" cy="158.30" r="1.65" fill="none" stroke="#0072BD" stroke-width="0.85"/>
<circle cx="485.69" cy="150.60" r="1.65" fill="none" stroke="#0072BD" stroke-width="0.85"/>
<circle cx="489.32" cy="154.50" r="1.65" fill="none" stroke="#0072BD" stroke-width="0.85"/>
<circle cx="492.96" cy="152.30" r="1.65" fill="none" stroke="#0072BD" stroke-width="0.85"/>
<circle cx="496.59" cy="157.20" r="1.65" fill="none" stroke="#0072BD" stroke-width="0.85"/>
<circle cx="500.22" cy="146.50" r="1.65" fill="none" stroke="#0072BD" stroke-width="0.85"/>
<circle cx="503.85" cy="157.20" r="1.65" fill="none" stroke="#0072BD" stroke-width="0.85"/>
<circle cx="507.48" cy="151.20" r="1.65" fill="none" stroke="#0072BD" stroke-width="0.85"/>
<circle cx="511.11" cy="155.60" r="1.65" fill="none" stroke="#0072BD" stroke-width="0.85"/>
<circle cx="514.75" cy="155.00" r="1.65" fill="none" stroke="#0072BD" stroke-width="0.85"/>
<circle cx="518.38" cy="155.60" r="1.65" fill="none" stroke="#0072BD" stroke-width="0.85"/>
<circle cx="522.01" cy="149.00" r="1.65" fill="none" stroke="#0072BD" stroke-width="0.85"/>
<circle cx="525.64" cy="155.60" r="1.65" fill="none" stroke="#0072BD" stroke-width="0.85"/>
<circle cx="529.27" cy="149.50" r="1.65" fill="none" stroke="#0072BD" stroke-width="0.85"/>
<circle cx="532.90" cy="152.80" r="1.65" fill="none" stroke="#0072BD" stroke-width="0.85"/>
<circle cx="536.54" cy="157.80" r="1.65" fill="none" stroke="#0072BD" stroke-width="0.85"/>
<circle cx="540.17" cy="156.10" r="1.65" fill="none" stroke="#0072BD" stroke-width="0.85"/>
<circle cx="543.80" cy="150.10" r="1.65" fill="none" stroke="#0072BD" stroke-width="0.85"/>
<path d="M394.90,181.50L398.53,184.00L402.16,193.00L405.80,199.80L409.43,213.10L413.06,212.00L416.69,213.10L420.32,212.50L423.95,216.00L427.59,218.20L431.22,216.50L434.85,212.00L438.48,214.80L442.11,209.40L445.74,205.70L449.38,199.00L453.01,201.60L456.64,202.30L460.27,206.30L463.90,190.40L467.53,193.20L471.17,203.00L474.80,187.10L478.43,184.90L482.06,183.20L485.69,177.70L489.32,181.00L492.96,175.50L496.59,173.50L500.22,172.30L503.85,175.50L507.48,173.00L511.11,170.30L514.75,169.70L518.38,176.30L522.01,173.60L525.64,170.30L529.27,170.30L532.90,172.50L536.54,171.40L540.17,171.40L543.80,171.40" fill="none" stroke="#EDB120" stroke-width="0.75" stroke-linejoin="round"/>
<path d="M392.90,181.50H396.90M394.90,179.50V183.50" stroke="#EDB120" stroke-width="0.85" fill="none"/>
<path d="M396.53,184.00H400.53M398.53,182.00V186.00" stroke="#EDB120" stroke-width="0.85" fill="none"/>
<path d="M400.16,193.00H404.16M402.16,191.00V195.00" stroke="#EDB120" stroke-width="0.85" fill="none"/>
<path d="M403.80,199.80H407.80M405.80,197.80V201.80" stroke="#EDB120" stroke-width="0.85" fill="none"/>
<path d="M407.43,213.10H411.43M409.43,211.10V215.10" stroke="#EDB120" stroke-width="0.85" fill="none"/>
<path d="M411.06,212.00H415.06M413.06,210.00V214.00" stroke="#EDB120" stroke-width="0.85" fill="none"/>
<path d="M414.69,213.10H418.69M416.69,211.10V215.10" stroke="#EDB120" stroke-width="0.85" fill="none"/>
<path d="M418.32,212.50H422.32M420.32,210.50V214.50" stroke="#EDB120" stroke-width="0.85" fill="none"/>
<path d="M421.95,216.00H425.95M423.95,214.00V218.00" stroke="#EDB120" stroke-width="0.85" fill="none"/>
<path d="M425.59,218.20H429.59M427.59,216.20V220.20" stroke="#EDB120" stroke-width="0.85" fill="none"/>
<path d="M429.22,216.50H433.22M431.22,214.50V218.50" stroke="#EDB120" stroke-width="0.85" fill="none"/>
<path d="M432.85,212.00H436.85M434.85,210.00V214.00" stroke="#EDB120" stroke-width="0.85" fill="none"/>
<path d="M436.48,214.80H440.48M438.48,212.80V216.80" stroke="#EDB120" stroke-width="0.85" fill="none"/>
<path d="M440.11,209.40H444.11M442.11,207.40V211.40" stroke="#EDB120" stroke-width="0.85" fill="none"/>
<path d="M443.74,205.70H447.74M445.74,203.70V207.70" stroke="#EDB120" stroke-width="0.85" fill="none"/>
<path d="M447.38,199.00H451.38M449.38,197.00V201.00" stroke="#EDB120" stroke-width="0.85" fill="none"/>
<path d="M451.01,201.60H455.01M453.01,199.60V203.60" stroke="#EDB120" stroke-width="0.85" fill="none"/>
<path d="M454.64,202.30H458.64M456.64,200.30V204.30" stroke="#EDB120" stroke-width="0.85" fill="none"/>
<path d="M458.27,206.30H462.27M460.27,204.30V208.30" stroke="#EDB120" stroke-width="0.85" fill="none"/>
<path d="M461.90,190.40H465.90M463.90,188.40V192.40" stroke="#EDB120" stroke-width="0.85" fill="none"/>
<path d="M465.53,193.20H469.53M467.53,191.20V195.20" stroke="#EDB120" stroke-width="0.85" fill="none"/>
<path d="M469.17,203.00H473.17M471.17,201.00V205.00" stroke="#EDB120" stroke-width="0.85" fill="none"/>
<path d="M472.80,187.10H476.80M474.80,185.10V189.10" stroke="#EDB120" stroke-width="0.85" fill="none"/>
<path d="M476.43,184.90H480.43M478.43,182.90V186.90" stroke="#EDB120" stroke-width="0.85" fill="none"/>
<path d="M480.06,183.20H484.06M482.06,181.20V185.20" stroke="#EDB120" stroke-width="0.85" fill="none"/>
<path d="M483.69,177.70H487.69M485.69,175.70V179.70" stroke="#EDB120" stroke-width="0.85" fill="none"/>
<path d="M487.32,181.00H491.32M489.32,179.00V183.00" stroke="#EDB120" stroke-width="0.85" fill="none"/>
<path d="M490.96,175.50H494.96M492.96,173.50V177.50" stroke="#EDB120" stroke-width="0.85" fill="none"/>
<path d="M494.59,173.50H498.59M496.59,171.50V175.50" stroke="#EDB120" stroke-width="0.85" fill="none"/>
<path d="M498.22,172.30H502.22M500.22,170.30V174.30" stroke="#EDB120" stroke-width="0.85" fill="none"/>
<path d="M501.85,175.50H505.85M503.85,173.50V177.50" stroke="#EDB120" stroke-width="0.85" fill="none"/>
<path d="M505.48,173.00H509.48M507.48,171.00V175.00" stroke="#EDB120" stroke-width="0.85" fill="none"/>
<path d="M509.11,170.30H513.11M511.11,168.30V172.30" stroke="#EDB120" stroke-width="0.85" fill="none"/>
<path d="M512.75,169.70H516.75M514.75,167.70V171.70" stroke="#EDB120" stroke-width="0.85" fill="none"/>
<path d="M516.38,176.30H520.38M518.38,174.30V178.30" stroke="#EDB120" stroke-width="0.85" fill="none"/>
<path d="M520.01,173.60H524.01M522.01,171.60V175.60" stroke="#EDB120" stroke-width="0.85" fill="none"/>
<path d="M523.64,170.30H527.64M525.64,168.30V172.30" stroke="#EDB120" stroke-width="0.85" fill="none"/>
<path d="M527.27,170.30H531.27M529.27,168.30V172.30" stroke="#EDB120" stroke-width="0.85" fill="none"/>
<path d="M530.90,172.50H534.90M532.90,170.50V174.50" stroke="#EDB120" stroke-width="0.85" fill="none"/>
<path d="M534.54,171.40H538.54M536.54,169.40V173.40" stroke="#EDB120" stroke-width="0.85" fill="none"/>
<path d="M538.17,171.40H542.17M540.17,169.40V173.40" stroke="#EDB120" stroke-width="0.85" fill="none"/>
<path d="M541.80,171.40H545.80M543.80,169.40V173.40" stroke="#EDB120" stroke-width="0.85" fill="none"/>
<path d="M394.90,181.30L398.53,179.20L402.16,193.20L405.80,204.40L409.43,224.00L413.06,226.20L416.69,224.50L420.32,228.50L423.95,222.20L427.59,224.00L431.22,228.50L434.85,222.20L438.48,216.00L442.11,218.50L445.74,227.00L449.38,222.80L453.01,226.10L456.64,223.50L460.27,222.80L463.90,215.50L467.53,219.50L471.17,215.50L474.80,219.50L478.43,217.50L482.06,225.50L485.69,215.00L489.32,218.00L492.96,214.00L496.59,220.00L500.22,216.00L503.85,224.50L507.48,224.00" fill="none" stroke="#7E2F8E" stroke-width="0.75" stroke-linejoin="round"/>
<path d="M394.90,179.20L396.79,182.56L393.01,182.56Z" stroke="#7E2F8E" stroke-width="0.8" fill="none"/>
<path d="M398.53,177.10L400.42,180.46L396.64,180.46Z" stroke="#7E2F8E" stroke-width="0.8" fill="none"/>
<path d="M402.16,191.10L404.05,194.46L400.27,194.46Z" stroke="#7E2F8E" stroke-width="0.8" fill="none"/>
<path d="M405.80,202.30L407.69,205.66L403.91,205.66Z" stroke="#7E2F8E" stroke-width="0.8" fill="none"/>
<path d="M409.43,221.90L411.32,225.26L407.54,225.26Z" stroke="#7E2F8E" stroke-width="0.8" fill="none"/>
<path d="M413.06,224.10L414.95,227.46L411.17,227.46Z" stroke="#7E2F8E" stroke-width="0.8" fill="none"/>
<path d="M416.69,222.40L418.58,225.76L414.80,225.76Z" stroke="#7E2F8E" stroke-width="0.8" fill="none"/>
<path d="M420.32,226.40L422.21,229.76L418.43,229.76Z" stroke="#7E2F8E" stroke-width="0.8" fill="none"/>
<path d="M423.95,220.10L425.84,223.46L422.06,223.46Z" stroke="#7E2F8E" stroke-width="0.8" fill="none"/>
<path d="M427.59,221.90L429.48,225.26L425.70,225.26Z" stroke="#7E2F8E" stroke-width="0.8" fill="none"/>
<path d="M431.22,226.40L433.11,229.76L429.33,229.76Z" stroke="#7E2F8E" stroke-width="0.8" fill="none"/>
<path d="M434.85,220.10L436.74,223.46L432.96,223.46Z" stroke="#7E2F8E" stroke-width="0.8" fill="none"/>
<path d="M438.48,213.90L440.37,217.26L436.59,217.26Z" stroke="#7E2F8E" stroke-width="0.8" fill="none"/>
<path d="M442.11,216.40L444.00,219.76L440.22,219.76Z" stroke="#7E2F8E" stroke-width="0.8" fill="none"/>
<path d="M445.74,224.90L447.63,228.26L443.85,228.26Z" stroke="#7E2F8E" stroke-width="0.8" fill="none"/>
<path d="M449.38,220.70L451.27,224.06L447.49,224.06Z" stroke="#7E2F8E" stroke-width="0.8" fill="none"/>
<path d="M453.01,224.00L454.90,227.36L451.12,227.36Z" stroke="#7E2F8E" stroke-width="0.8" fill="none"/>
<path d="M456.64,221.40L458.53,224.76L454.75,224.76Z" stroke="#7E2F8E" stroke-width="0.8" fill="none"/>
<path d="M460.27,220.70L462.16,224.06L458.38,224.06Z" stroke="#7E2F8E" stroke-width="0.8" fill="none"/>
<path d="M463.90,213.40L465.79,216.76L462.01,216.76Z" stroke="#7E2F8E" stroke-width="0.8" fill="none"/>
<path d="M467.53,217.40L469.42,220.76L465.64,220.76Z" stroke="#7E2F8E" stroke-width="0.8" fill="none"/>
<path d="M471.17,213.40L473.06,216.76L469.28,216.76Z" stroke="#7E2F8E" stroke-width="0.8" fill="none"/>
<path d="M474.80,217.40L476.69,220.76L472.91,220.76Z" stroke="#7E2F8E" stroke-width="0.8" fill="none"/>
<path d="M478.43,215.40L480.32,218.76L476.54,218.76Z" stroke="#7E2F8E" stroke-width="0.8" fill="none"/>
<path d="M482.06,223.40L483.95,226.76L480.17,226.76Z" stroke="#7E2F8E" stroke-width="0.8" fill="none"/>
<path d="M485.69,212.90L487.58,216.26L483.80,216.26Z" stroke="#7E2F8E" stroke-width="0.8" fill="none"/>
<path d="M489.32,215.90L491.21,219.26L487.43,219.26Z" stroke="#7E2F8E" stroke-width="0.8" fill="none"/>
<path d="M492.96,211.90L494.85,215.26L491.07,215.26Z" stroke="#7E2F8E" stroke-width="0.8" fill="none"/>
<path d="M496.59,217.90L498.48,221.26L494.70,221.26Z" stroke="#7E2F8E" stroke-width="0.8" fill="none"/>
<path d="M500.22,213.90L502.11,217.26L498.33,217.26Z" stroke="#7E2F8E" stroke-width="0.8" fill="none"/>
<path d="M503.85,222.40L505.74,225.76L501.96,225.76Z" stroke="#7E2F8E" stroke-width="0.8" fill="none"/>
<path d="M507.48,221.90L509.37,225.26L505.59,225.26Z" stroke="#7E2F8E" stroke-width="0.8" fill="none"/>
</g>
<path d="M30.8,6.2V87.15H178" fill="none" stroke="#7c7c7c" stroke-width="1"/>
<line x1="30.8" x2="32.3" y1="28.0" y2="28.0" stroke="#7c7c7c" stroke-width="0.8"/>
<text x="27.6" y="30.8" font-family="Liberation Serif" font-size="9.3" text-anchor="end" fill="#1c1c1c" >6</text>
<line x1="30.8" x2="32.3" y1="55.3" y2="55.3" stroke="#7c7c7c" stroke-width="0.8"/>
<text x="27.6" y="58.099999999999994" font-family="Liberation Serif" font-size="9.3" text-anchor="end" fill="#1c1c1c" >5</text>
<line x1="30.8" x2="32.3" y1="82.6" y2="82.6" stroke="#7c7c7c" stroke-width="0.8"/>
<text x="27.6" y="85.39999999999999" font-family="Liberation Serif" font-size="9.3" text-anchor="end" fill="#1c1c1c" >4</text>
<line x1="64.77" x2="64.77" y1="87.15" y2="85.65" stroke="#7c7c7c" stroke-width="0.8"/>
<text x="64.77" y="96.95" font-family="Liberation Serif" font-size="9.3" text-anchor="middle" fill="#1c1c1c" >10</text>
<line x1="102.51" x2="102.51" y1="87.15" y2="85.65" stroke="#7c7c7c" stroke-width="0.8"/>
<text x="102.51" y="96.95" font-family="Liberation Serif" font-size="9.3" text-anchor="middle" fill="#1c1c1c" >20</text>
<line x1="140.26" x2="140.26" y1="87.15" y2="85.65" stroke="#7c7c7c" stroke-width="0.8"/>
<text x="140.26" y="96.95" font-family="Liberation Serif" font-size="9.3" text-anchor="middle" fill="#1c1c1c" >30</text>
<line x1="178.00" x2="178.00" y1="87.15" y2="85.65" stroke="#7c7c7c" stroke-width="0.8"/>
<text x="178.00" y="96.95" font-family="Liberation Serif" font-size="9.3" text-anchor="middle" fill="#1c1c1c" >40</text>
<text x="104.40" y="104.45" font-family="Liberation Serif" font-size="10.6" text-anchor="middle" fill="#1c1c1c" textLength="52.2" lengthAdjust="spacingAndGlyphs" >Generation</text>
<path d="M212.5,6.3V87.2H360.2" fill="none" stroke="#7c7c7c" stroke-width="1"/>
<line x1="212.5" x2="214.0" y1="18.9" y2="18.9" stroke="#7c7c7c" stroke-width="0.8"/>
<text x="209.3" y="21.7" font-family="Liberation Serif" font-size="9.3" text-anchor="end" fill="#1c1c1c" >0</text>
<line x1="212.5" x2="214.0" y1="33.0" y2="33.0" stroke="#7c7c7c" stroke-width="0.8"/>
<text x="209.3" y="35.8" font-family="Liberation Serif" font-size="9.3" text-anchor="end" fill="#1c1c1c" >-5</text>
<line x1="212.5" x2="214.0" y1="47.15" y2="47.15" stroke="#7c7c7c" stroke-width="0.8"/>
<text x="209.3" y="49.949999999999996" font-family="Liberation Serif" font-size="9.3" text-anchor="end" fill="#1c1c1c" >-10</text>
<line x1="212.5" x2="214.0" y1="61.3" y2="61.3" stroke="#7c7c7c" stroke-width="0.8"/>
<text x="209.3" y="64.1" font-family="Liberation Serif" font-size="9.3" text-anchor="end" fill="#1c1c1c" >-15</text>
<line x1="212.5" x2="214.0" y1="75.4" y2="75.4" stroke="#7c7c7c" stroke-width="0.8"/>
<text x="209.3" y="78.2" font-family="Liberation Serif" font-size="9.3" text-anchor="end" fill="#1c1c1c" >-20</text>
<line x1="246.58" x2="246.58" y1="87.2" y2="85.7" stroke="#7c7c7c" stroke-width="0.8"/>
<text x="246.58" y="97.0" font-family="Liberation Serif" font-size="9.3" text-anchor="middle" fill="#1c1c1c" >10</text>
<line x1="284.46" x2="284.46" y1="87.2" y2="85.7" stroke="#7c7c7c" stroke-width="0.8"/>
<text x="284.46" y="97.0" font-family="Liberation Serif" font-size="9.3" text-anchor="middle" fill="#1c1c1c" >20</text>
<line x1="322.33" x2="322.33" y1="87.2" y2="85.7" stroke="#7c7c7c" stroke-width="0.8"/>
<text x="322.33" y="97.0" font-family="Liberation Serif" font-size="9.3" text-anchor="middle" fill="#1c1c1c" >30</text>
<line x1="360.20" x2="360.20" y1="87.2" y2="85.7" stroke="#7c7c7c" stroke-width="0.8"/>
<text x="360.20" y="97.0" font-family="Liberation Serif" font-size="9.3" text-anchor="middle" fill="#1c1c1c" >40</text>
<text x="286.35" y="104.5" font-family="Liberation Serif" font-size="10.6" text-anchor="middle" fill="#1c1c1c" textLength="52.2" lengthAdjust="spacingAndGlyphs" >Generation</text>
<path d="M394.5,6.0V87.1H541.9" fill="none" stroke="#7c7c7c" stroke-width="1"/>
<line x1="394.5" x2="396.0" y1="27.5" y2="27.5" stroke="#7c7c7c" stroke-width="0.8"/>
<text x="391.3" y="30.3" font-family="Liberation Serif" font-size="9.3" text-anchor="end" fill="#1c1c1c" >0</text>
<line x1="394.5" x2="396.0" y1="48.85" y2="48.85" stroke="#7c7c7c" stroke-width="0.8"/>
<text x="391.3" y="51.65" font-family="Liberation Serif" font-size="9.3" text-anchor="end" fill="#1c1c1c" >-10</text>
<line x1="394.5" x2="396.0" y1="70.2" y2="70.2" stroke="#7c7c7c" stroke-width="0.8"/>
<text x="391.3" y="73.0" font-family="Liberation Serif" font-size="9.3" text-anchor="end" fill="#1c1c1c" >-20</text>
<line x1="428.52" x2="428.52" y1="87.1" y2="85.6" stroke="#7c7c7c" stroke-width="0.8"/>
<text x="428.52" y="96.89999999999999" font-family="Liberation Serif" font-size="9.3" text-anchor="middle" fill="#1c1c1c" >10</text>
<line x1="466.31" x2="466.31" y1="87.1" y2="85.6" stroke="#7c7c7c" stroke-width="0.8"/>
<text x="466.31" y="96.89999999999999" font-family="Liberation Serif" font-size="9.3" text-anchor="middle" fill="#1c1c1c" >20</text>
<line x1="504.11" x2="504.11" y1="87.1" y2="85.6" stroke="#7c7c7c" stroke-width="0.8"/>
<text x="504.11" y="96.89999999999999" font-family="Liberation Serif" font-size="9.3" text-anchor="middle" fill="#1c1c1c" >30</text>
<line x1="541.90" x2="541.90" y1="87.1" y2="85.6" stroke="#7c7c7c" stroke-width="0.8"/>
<text x="541.90" y="96.89999999999999" font-family="Liberation Serif" font-size="9.3" text-anchor="middle" fill="#1c1c1c" >40</text>
<text x="468.20" y="104.39999999999999" font-family="Liberation Serif" font-size="10.6" text-anchor="middle" fill="#1c1c1c" textLength="52.2" lengthAdjust="spacingAndGlyphs" >Generation</text>
<path d="M31.5,147.0V228.9H180.2" fill="none" stroke="#7c7c7c" stroke-width="1"/>
<line x1="31.5" x2="33.0" y1="149.2" y2="149.2" stroke="#7c7c7c" stroke-width="0.8"/>
<text x="28.3" y="152.39999999999998" font-family="Liberation Serif" font-size="9.3" text-anchor="end" fill="#1c1c1c" >6.5</text>
<line x1="31.5" x2="33.0" y1="183.85" y2="183.85" stroke="#7c7c7c" stroke-width="0.8"/>
<text x="28.3" y="187.04999999999998" font-family="Liberation Serif" font-size="9.3" text-anchor="end" fill="#1c1c1c" >6</text>
<line x1="31.5" x2="33.0" y1="218.5" y2="218.5" stroke="#7c7c7c" stroke-width="0.8"/>
<text x="28.3" y="221.7" font-family="Liberation Serif" font-size="9.3" text-anchor="end" fill="#1c1c1c" >5.5</text>
<line x1="64.14" x2="64.14" y1="228.9" y2="227.4" stroke="#7c7c7c" stroke-width="0.8"/>
<text x="64.14" y="239.5" font-family="Liberation Serif" font-size="9.3" text-anchor="middle" fill="#1c1c1c" >10</text>
<line x1="100.41" x2="100.41" y1="228.9" y2="227.4" stroke="#7c7c7c" stroke-width="0.8"/>
<text x="100.41" y="239.5" font-family="Liberation Serif" font-size="9.3" text-anchor="middle" fill="#1c1c1c" >20</text>
<line x1="136.68" x2="136.68" y1="228.9" y2="227.4" stroke="#7c7c7c" stroke-width="0.8"/>
<text x="136.68" y="239.5" font-family="Liberation Serif" font-size="9.3" text-anchor="middle" fill="#1c1c1c" >30</text>
<line x1="172.95" x2="172.95" y1="228.9" y2="227.4" stroke="#7c7c7c" stroke-width="0.8"/>
<text x="172.95" y="239.5" font-family="Liberation Serif" font-size="9.3" text-anchor="middle" fill="#1c1c1c" >40</text>
<text x="105.85" y="246.9" font-family="Liberation Serif" font-size="10.6" text-anchor="middle" fill="#1c1c1c" textLength="52.2" lengthAdjust="spacingAndGlyphs" >Generation</text>
<path d="M213.2,147.0V228.8H362.0" fill="none" stroke="#7c7c7c" stroke-width="1"/>
<line x1="213.2" x2="214.7" y1="153.9" y2="153.9" stroke="#7c7c7c" stroke-width="0.8"/>
<text x="210.0" y="157.1" font-family="Liberation Serif" font-size="9.3" text-anchor="end" fill="#1c1c1c" >-10</text>
<line x1="213.2" x2="214.7" y1="176.4" y2="176.4" stroke="#7c7c7c" stroke-width="0.8"/>
<text x="210.0" y="179.6" font-family="Liberation Serif" font-size="9.3" text-anchor="end" fill="#1c1c1c" >-15</text>
<line x1="213.2" x2="214.7" y1="198.85" y2="198.85" stroke="#7c7c7c" stroke-width="0.8"/>
<text x="210.0" y="202.04999999999998" font-family="Liberation Serif" font-size="9.3" text-anchor="end" fill="#1c1c1c" >-20</text>
<line x1="213.2" x2="214.7" y1="221.3" y2="221.3" stroke="#7c7c7c" stroke-width="0.8"/>
<text x="210.0" y="224.5" font-family="Liberation Serif" font-size="9.3" text-anchor="end" fill="#1c1c1c" >-25</text>
<line x1="245.86" x2="245.86" y1="228.8" y2="227.3" stroke="#7c7c7c" stroke-width="0.8"/>
<text x="245.86" y="239.4" font-family="Liberation Serif" font-size="9.3" text-anchor="middle" fill="#1c1c1c" >10</text>
<line x1="282.16" x2="282.16" y1="228.8" y2="227.3" stroke="#7c7c7c" stroke-width="0.8"/>
<text x="282.16" y="239.4" font-family="Liberation Serif" font-size="9.3" text-anchor="middle" fill="#1c1c1c" >20</text>
<line x1="318.45" x2="318.45" y1="228.8" y2="227.3" stroke="#7c7c7c" stroke-width="0.8"/>
<text x="318.45" y="239.4" font-family="Liberation Serif" font-size="9.3" text-anchor="middle" fill="#1c1c1c" >30</text>
<line x1="354.74" x2="354.74" y1="228.8" y2="227.3" stroke="#7c7c7c" stroke-width="0.8"/>
<text x="354.74" y="239.4" font-family="Liberation Serif" font-size="9.3" text-anchor="middle" fill="#1c1c1c" >40</text>
<text x="287.60" y="246.8" font-family="Liberation Serif" font-size="10.6" text-anchor="middle" fill="#1c1c1c" textLength="52.2" lengthAdjust="spacingAndGlyphs" >Generation</text>
<path d="M394.9,146.9V228.8H543.8" fill="none" stroke="#7c7c7c" stroke-width="1"/>
<line x1="394.9" x2="396.4" y1="151.8" y2="151.8" stroke="#7c7c7c" stroke-width="0.8"/>
<text x="391.7" y="155.0" font-family="Liberation Serif" font-size="9.3" text-anchor="end" fill="#1c1c1c" >10</text>
<line x1="394.9" x2="396.4" y1="176.3" y2="176.3" stroke="#7c7c7c" stroke-width="0.8"/>
<text x="391.7" y="179.5" font-family="Liberation Serif" font-size="9.3" text-anchor="end" fill="#1c1c1c" >0</text>
<line x1="394.9" x2="396.4" y1="200.8" y2="200.8" stroke="#7c7c7c" stroke-width="0.8"/>
<text x="391.7" y="204.0" font-family="Liberation Serif" font-size="9.3" text-anchor="end" fill="#1c1c1c" >-10</text>
<line x1="394.9" x2="396.4" y1="225.3" y2="225.3" stroke="#7c7c7c" stroke-width="0.8"/>
<text x="391.7" y="228.5" font-family="Liberation Serif" font-size="9.3" text-anchor="end" fill="#1c1c1c" >-20</text>
<line x1="427.59" x2="427.59" y1="228.8" y2="227.3" stroke="#7c7c7c" stroke-width="0.8"/>
<text x="427.59" y="239.4" font-family="Liberation Serif" font-size="9.3" text-anchor="middle" fill="#1c1c1c" >10</text>
<line x1="463.90" x2="463.90" y1="228.8" y2="227.3" stroke="#7c7c7c" stroke-width="0.8"/>
<text x="463.90" y="239.4" font-family="Liberation Serif" font-size="9.3" text-anchor="middle" fill="#1c1c1c" >20</text>
<line x1="500.22" x2="500.22" y1="228.8" y2="227.3" stroke="#7c7c7c" stroke-width="0.8"/>
<text x="500.22" y="239.4" font-family="Liberation Serif" font-size="9.3" text-anchor="middle" fill="#1c1c1c" >30</text>
<line x1="536.54" x2="536.54" y1="228.8" y2="227.3" stroke="#7c7c7c" stroke-width="0.8"/>
<text x="536.54" y="239.4" font-family="Liberation Serif" font-size="9.3" text-anchor="middle" fill="#1c1c1c" >40</text>
<text x="469.35" y="246.8" font-family="Liberation Serif" font-size="10.6" text-anchor="middle" fill="#1c1c1c" textLength="52.2" lengthAdjust="spacingAndGlyphs" >Generation</text>
<rect x="117" y="7.7" width="48.599999999999994" height="39.0" fill="#fff" stroke="#7a7a7a" stroke-width="0.9"/>
<line x1="120" x2="136" y1="13.2" y2="13.2" stroke="#0072BD" stroke-width="0.8"/>
<circle cx="128.00" cy="13.20" r="1.65" fill="none" stroke="#0072BD" stroke-width="0.85"/>
<text x="138.3" y="15.7" font-family="Liberation Serif" font-size="7.3" text-anchor="start" fill="#1c1c1c" textLength="25.4" lengthAdjust="spacingAndGlyphs" stroke="#1c1c1c" stroke-width="0.2">Opt-1-1</text>
<line x1="120" x2="136" y1="22.4" y2="22.4" stroke="#D95319" stroke-width="0.8"/>
<path d="M126.20,22.40H129.80M128.00,20.60V24.20M126.65,21.05L129.35,23.75M126.65,23.75L129.35,21.05" stroke="#D95319" stroke-width="0.9" fill="none"/><circle cx="128.00" cy="22.40" r="1.2" fill="#D95319"/>
<text x="138.3" y="24.9" font-family="Liberation Serif" font-size="7.3" text-anchor="start" fill="#1c1c1c" textLength="25.4" lengthAdjust="spacingAndGlyphs" stroke="#1c1c1c" stroke-width="0.2">Opt-1-2</text>
<line x1="120" x2="136" y1="31.6" y2="31.6" stroke="#EDB120" stroke-width="0.8"/>
<path d="M126.00,31.60H130.00M128.00,29.60V33.60" stroke="#EDB120" stroke-width="0.85" fill="none"/>
<text x="138.3" y="34.1" font-family="Liberation Serif" font-size="7.3" text-anchor="start" fill="#1c1c1c" textLength="25.4" lengthAdjust="spacingAndGlyphs" stroke="#1c1c1c" stroke-width="0.2">Opt-1-3</text>
<line x1="120" x2="136" y1="40.8" y2="40.8" stroke="#7E2F8E" stroke-width="0.8"/>
<path d="M128.00,38.70L129.89,42.06L126.11,42.06Z" stroke="#7E2F8E" stroke-width="0.8" fill="none"/>
<text x="138.3" y="43.3" font-family="Liberation Serif" font-size="7.3" text-anchor="start" fill="#1c1c1c" textLength="25.4" lengthAdjust="spacingAndGlyphs" stroke="#1c1c1c" stroke-width="0.2">Opt-1-4</text>
<rect x="225.3" y="7.7" width="48.0" height="38.8" fill="#fff" stroke="#7a7a7a" stroke-width="0.9"/>
<line x1="228" x2="244.8" y1="13.2" y2="13.2" stroke="#0072BD" stroke-width="0.8"/>
<circle cx="236.40" cy="13.20" r="1.65" fill="none" stroke="#0072BD" stroke-width="0.85"/>
<text x="246.6" y="15.7" font-family="Liberation Serif" font-size="7.3" text-anchor="start" fill="#1c1c1c" textLength="25.4" lengthAdjust="spacingAndGlyphs" stroke="#1c1c1c" stroke-width="0.2">Opt-1-1</text>
<line x1="228" x2="244.8" y1="22.4" y2="22.4" stroke="#D95319" stroke-width="0.8"/>
<path d="M234.60,22.40H238.20M236.40,20.60V24.20M235.05,21.05L237.75,23.75M235.05,23.75L237.75,21.05" stroke="#D95319" stroke-width="0.9" fill="none"/><circle cx="236.40" cy="22.40" r="1.2" fill="#D95319"/>
<text x="246.6" y="24.9" font-family="Liberation Serif" font-size="7.3" text-anchor="start" fill="#1c1c1c" textLength="25.4" lengthAdjust="spacingAndGlyphs" stroke="#1c1c1c" stroke-width="0.2">Opt-1-2</text>
<line x1="228" x2="244.8" y1="31.6" y2="31.6" stroke="#EDB120" stroke-width="0.8"/>
<path d="M234.40,31.60H238.40M236.40,29.60V33.60" stroke="#EDB120" stroke-width="0.85" fill="none"/>
<text x="246.6" y="34.1" font-family="Liberation Serif" font-size="7.3" text-anchor="start" fill="#1c1c1c" textLength="25.4" lengthAdjust="spacingAndGlyphs" stroke="#1c1c1c" stroke-width="0.2">Opt-1-3</text>
<line x1="228" x2="244.8" y1="40.8" y2="40.8" stroke="#7E2F8E" stroke-width="0.8"/>
<path d="M236.40,38.70L238.29,42.06L234.51,42.06Z" stroke="#7E2F8E" stroke-width="0.8" fill="none"/>
<text x="246.6" y="43.3" font-family="Liberation Serif" font-size="7.3" text-anchor="start" fill="#1c1c1c" textLength="25.4" lengthAdjust="spacingAndGlyphs" stroke="#1c1c1c" stroke-width="0.2">Opt-1-4</text>
<rect x="480.5" y="46.8" width="48.299999999999955" height="37.7" fill="#fff" stroke="#7a7a7a" stroke-width="0.9"/>
<line x1="483.8" x2="499.4" y1="52.4" y2="52.4" stroke="#0072BD" stroke-width="0.8"/>
<circle cx="491.60" cy="52.40" r="1.65" fill="none" stroke="#0072BD" stroke-width="0.85"/>
<text x="501.4" y="54.9" font-family="Liberation Serif" font-size="7.3" text-anchor="start" fill="#1c1c1c" textLength="25.0" lengthAdjust="spacingAndGlyphs" stroke="#1c1c1c" stroke-width="0.2">Opt-1-1</text>
<line x1="483.8" x2="499.4" y1="61.4" y2="61.4" stroke="#D95319" stroke-width="0.8"/>
<path d="M489.80,61.40H493.40M491.60,59.60V63.20M490.25,60.05L492.95,62.75M490.25,62.75L492.95,60.05" stroke="#D95319" stroke-width="0.9" fill="none"/><circle cx="491.60" cy="61.40" r="1.2" fill="#D95319"/>
<text x="501.4" y="63.9" font-family="Liberation Serif" font-size="7.3" text-anchor="start" fill="#1c1c1c" textLength="25.0" lengthAdjust="spacingAndGlyphs" stroke="#1c1c1c" stroke-width="0.2">Opt-1-2</text>
<line x1="483.8" x2="499.4" y1="70.4" y2="70.4" stroke="#EDB120" stroke-width="0.8"/>
<path d="M489.60,70.40H493.60M491.60,68.40V72.40" stroke="#EDB120" stroke-width="0.85" fill="none"/>
<text x="501.4" y="72.9" font-family="Liberation Serif" font-size="7.3" text-anchor="start" fill="#1c1c1c" textLength="25.0" lengthAdjust="spacingAndGlyphs" stroke="#1c1c1c" stroke-width="0.2">Opt-1-3</text>
<line x1="483.8" x2="499.4" y1="79.4" y2="79.4" stroke="#7E2F8E" stroke-width="0.8"/>
<path d="M491.60,77.30L493.49,80.66L489.71,80.66Z" stroke="#7E2F8E" stroke-width="0.8" fill="none"/>
<text x="501.4" y="81.9" font-family="Liberation Serif" font-size="7.3" text-anchor="start" fill="#1c1c1c" textLength="25.0" lengthAdjust="spacingAndGlyphs" stroke="#1c1c1c" stroke-width="0.2">Opt-1-4</text>
<rect x="118.4" y="152.5" width="48.19999999999999" height="30.5" fill="#fff" stroke="#7a7a7a" stroke-width="0.9"/>
<line x1="121.1" x2="138.2" y1="158.2" y2="158.2" stroke="#0072BD" stroke-width="0.8"/>
<circle cx="129.65" cy="158.20" r="1.65" fill="none" stroke="#0072BD" stroke-width="0.85"/>
<text x="140.3" y="160.7" font-family="Liberation Serif" font-size="7.3" text-anchor="start" fill="#1c1c1c" textLength="25.6" lengthAdjust="spacingAndGlyphs" stroke="#1c1c1c" stroke-width="0.2">Opt-1-6</text>
<line x1="121.1" x2="138.2" y1="167.7" y2="167.7" stroke="#EDB120" stroke-width="0.8"/>
<path d="M127.65,167.70H131.65M129.65,165.70V169.70" stroke="#EDB120" stroke-width="0.85" fill="none"/>
<text x="140.3" y="170.2" font-family="Liberation Serif" font-size="7.3" text-anchor="start" fill="#1c1c1c" textLength="25.6" lengthAdjust="spacingAndGlyphs" stroke="#1c1c1c" stroke-width="0.2">Opt-1-7</text>
<line x1="121.1" x2="138.2" y1="177.1" y2="177.1" stroke="#7E2F8E" stroke-width="0.8"/>
<path d="M129.65,175.00L131.54,178.36L127.76,178.36Z" stroke="#7E2F8E" stroke-width="0.8" fill="none"/>
<text x="140.3" y="179.6" font-family="Liberation Serif" font-size="7.3" text-anchor="start" fill="#1c1c1c" textLength="25.6" lengthAdjust="spacingAndGlyphs" stroke="#1c1c1c" stroke-width="0.2">Opt-1-8</text>
<rect x="300.1" y="193.3" width="49.599999999999966" height="29.899999999999977" fill="#fff" stroke="#7a7a7a" stroke-width="0.9"/>
<line x1="303.2" x2="319.4" y1="198.8" y2="198.8" stroke="#0072BD" stroke-width="0.8"/>
<circle cx="311.30" cy="198.80" r="1.65" fill="none" stroke="#0072BD" stroke-width="0.85"/>
<text x="321.6" y="201.3" font-family="Liberation Serif" font-size="7.3" text-anchor="start" fill="#1c1c1c" textLength="26.0" lengthAdjust="spacingAndGlyphs" stroke="#1c1c1c" stroke-width="0.2">Opt-1-6</text>
<line x1="303.2" x2="319.4" y1="208.4" y2="208.4" stroke="#EDB120" stroke-width="0.8"/>
<path d="M309.30,208.40H313.30M311.30,206.40V210.40" stroke="#EDB120" stroke-width="0.85" fill="none"/>
<text x="321.6" y="210.9" font-family="Liberation Serif" font-size="7.3" text-anchor="start" fill="#1c1c1c" textLength="26.0" lengthAdjust="spacingAndGlyphs" stroke="#1c1c1c" stroke-width="0.2">Opt-1-7</text>
<line x1="303.2" x2="319.4" y1="218.0" y2="218.0" stroke="#7E2F8E" stroke-width="0.8"/>
<path d="M311.30,215.90L313.19,219.26L309.41,219.26Z" stroke="#7E2F8E" stroke-width="0.8" fill="none"/>
<text x="321.6" y="220.5" font-family="Liberation Serif" font-size="7.3" text-anchor="start" fill="#1c1c1c" textLength="26.0" lengthAdjust="spacingAndGlyphs" stroke="#1c1c1c" stroke-width="0.2">Opt-1-8</text>
<rect x="481.4" y="193.3" width="49.30000000000007" height="29.899999999999977" fill="#fff" stroke="#7a7a7a" stroke-width="0.9"/>
<line x1="484.5" x2="500.5" y1="198.8" y2="198.8" stroke="#0072BD" stroke-width="0.8"/>
<circle cx="492.50" cy="198.80" r="1.65" fill="none" stroke="#0072BD" stroke-width="0.85"/>
<text x="502.7" y="201.3" font-family="Liberation Serif" font-size="7.3" text-anchor="start" fill="#1c1c1c" textLength="26.0" lengthAdjust="spacingAndGlyphs" stroke="#1c1c1c" stroke-width="0.2">Opt-1-6</text>
<line x1="484.5" x2="500.5" y1="208.4" y2="208.4" stroke="#EDB120" stroke-width="0.8"/>
<path d="M490.50,208.40H494.50M492.50,206.40V210.40" stroke="#EDB120" stroke-width="0.85" fill="none"/>
<text x="502.7" y="210.9" font-family="Liberation Serif" font-size="7.3" text-anchor="start" fill="#1c1c1c" textLength="26.0" lengthAdjust="spacingAndGlyphs" stroke="#1c1c1c" stroke-width="0.2">Opt-1-7</text>
<line x1="484.5" x2="500.5" y1="218.0" y2="218.0" stroke="#7E2F8E" stroke-width="0.8"/>
<path d="M492.50,215.90L494.39,219.26L490.61,219.26Z" stroke="#7E2F8E" stroke-width="0.8" fill="none"/>
<text x="502.7" y="220.5" font-family="Liberation Serif" font-size="7.3" text-anchor="start" fill="#1c1c1c" textLength="26.0" lengthAdjust="spacingAndGlyphs" stroke="#1c1c1c" stroke-width="0.2">Opt-1-8</text>
<g transform="translate(12.1,62.9) rotate(-90)" font-family="Liberation Serif" fill="#1c1c1c"><text x="0" y="0" font-size="11" font-style="italic" textLength="8.0" lengthAdjust="spacingAndGlyphs">K</text><text x="8.9" y="2.6" font-size="7.6" font-style="italic">T</text><text x="18.3" y="0" font-size="10.6" textLength="14.2" lengthAdjust="spacingAndGlyphs">[%]</text></g>
<g transform="translate(12.1,204.7) rotate(-90)" font-family="Liberation Serif" fill="#1c1c1c"><text x="0" y="0" font-size="11" font-style="italic" textLength="8.0" lengthAdjust="spacingAndGlyphs">K</text><text x="8.9" y="2.6" font-size="7.6" font-style="italic">T</text><text x="18.3" y="0" font-size="10.6" textLength="14.2" lengthAdjust="spacingAndGlyphs">[%]</text></g>
<text x="0" y="0" transform="translate(193.6,46.6) rotate(-90)" font-family="Liberation Serif" font-size="10.6" text-anchor="middle" fill="#1c1c1c" textLength="61.7" lengthAdjust="spacingAndGlyphs">CMaxVol [%]</text>
<text x="0" y="0" transform="translate(193.6,188.2) rotate(-90)" font-family="Liberation Serif" font-size="10.6" text-anchor="middle" fill="#1c1c1c" textLength="61.7" lengthAdjust="spacingAndGlyphs">CMaxVol [%]</text>
<text x="0" y="0" transform="translate(375.0,46.9) rotate(-90)" font-family="Liberation Serif" font-size="10.6" text-anchor="middle" fill="#1c1c1c" textLength="41.4" lengthAdjust="spacingAndGlyphs">FEM [%]</text>
<text x="0" y="0" transform="translate(375.0,188.3) rotate(-90)" font-family="Liberation Serif" font-size="10.6" text-anchor="middle" fill="#1c1c1c" textLength="41.4" lengthAdjust="spacingAndGlyphs">FEM [%]</text>
<text x="254.6" y="123.6" font-family="Liberation Serif" font-size="12" text-anchor="start" fill="#1e1e1e" textLength="12.6" lengthAdjust="spacingAndGlyphs" font-weight="bold" >(a)</text>
<text x="270.3" y="123.6" font-family="Liberation Serif" font-size="12" text-anchor="start" fill="#1e1e1e" textLength="41.2" lengthAdjust="spacingAndGlyphs" >Group 1</text>
<text x="254.1" y="266.0" font-family="Liberation Serif" font-size="12" text-anchor="start" fill="#1e1e1e" textLength="13.6" lengthAdjust="spacingAndGlyphs" font-weight="bold" >(b)</text>
<text x="270.9" y="266.0" font-family="Liberation Serif" font-size="12" text-anchor="start" fill="#1e1e1e" textLength="41.6" lengthAdjust="spacingAndGlyphs" >Group 2</text>
</svg>
</body></html>
